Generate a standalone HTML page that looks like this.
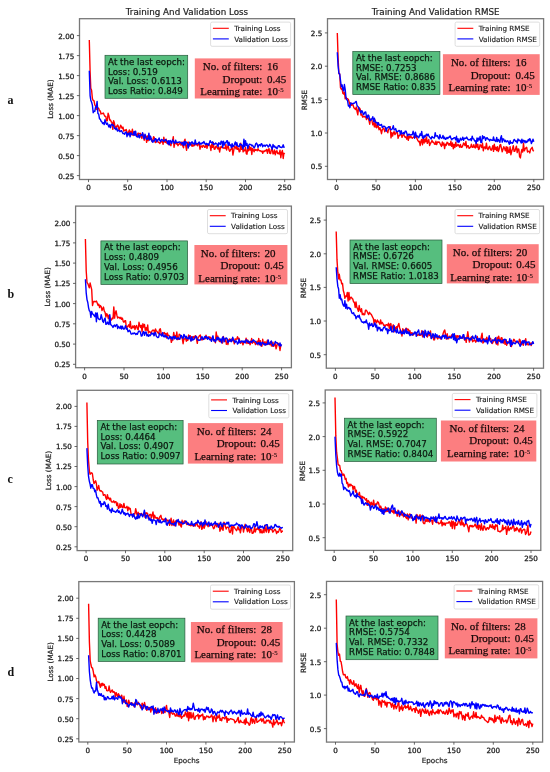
<!DOCTYPE html>
<html><head><meta charset="utf-8"><title>Training and Validation Loss / RMSE</title>
<style>html,body{margin:0;padding:0;background:#fff;}body{width:550px;height:772px;overflow:hidden;}svg{display:block;}</style>
</head><body>
<svg width="550" height="772" viewBox="0 0 550 772"><defs><clipPath id="c0"><rect x="79.5" y="18.7" width="215" height="160.8"/></clipPath><clipPath id="c1"><rect x="327.5" y="18.7" width="216.1" height="160.8"/></clipPath><clipPath id="c2"><rect x="75.6" y="206.1" width="215.8" height="161.6"/></clipPath><clipPath id="c3"><rect x="326.3" y="206.1" width="217.2" height="162.1"/></clipPath><clipPath id="c4"><rect x="77.1" y="390.3" width="215.6" height="160.3"/></clipPath><clipPath id="c5"><rect x="325.2" y="390" width="215.6" height="160.4"/></clipPath><clipPath id="c6"><rect x="78.8" y="581.6" width="215.6" height="160.4"/></clipPath><clipPath id="c7"><rect x="326.5" y="581.4" width="216.1" height="160.7"/></clipPath></defs><g><rect width="550" height="772" fill="#fff"/><g clip-path="url(#c0)"><polyline points="89.3,40.0 90.1,71.6 90.8,88.4 91.6,90.2 92.4,98.6 93.2,100.6 94.0,100.6 94.8,104.9 95.6,106.0 96.3,109.5 97.1,108.1 97.9,107.8 98.7,108.6 99.5,110.7 100.3,110.9 101.0,114.0 101.8,113.5 102.6,113.5 103.4,113.1 104.2,115.0 105.0,116.4 105.8,116.5 106.5,120.7 107.3,120.7 108.1,113.2 108.9,115.6 109.7,120.0 110.5,120.0 111.3,121.9 112.0,122.5 112.8,129.4 113.6,120.8 114.4,123.0 115.2,128.9 116.0,126.4 116.7,126.9 117.5,124.9 118.3,126.2 119.1,130.3 119.9,127.7 120.7,125.2 121.5,126.9 122.2,128.6 123.0,127.1 123.8,131.2 124.6,130.1 125.4,130.3 126.2,129.4 127.0,132.2 127.7,133.1 128.5,132.2 129.3,130.0 130.1,133.7 130.9,131.3 131.7,134.7 132.4,129.1 133.2,135.5 134.0,133.7 134.8,131.4 135.6,133.8 136.4,134.9 137.2,135.7 137.9,133.2 138.7,133.3 139.5,133.9 140.3,133.3 141.1,137.0 141.9,138.4 142.6,133.4 143.4,135.3 144.2,140.2 145.0,135.1 145.8,136.2 146.6,142.3 147.4,135.9 148.1,140.7 148.9,138.1 149.7,135.9 150.5,139.1 151.3,138.6 152.1,141.5 152.9,140.4 153.6,136.6 154.4,137.8 155.2,142.5 156.0,142.3 156.8,139.6 157.6,141.2 158.3,142.3 159.1,142.5 159.9,143.5 160.7,142.2 161.5,141.6 162.3,141.3 163.1,144.3 163.8,137.1 164.6,141.9 165.4,142.4 166.2,139.3 167.0,143.3 167.8,141.2 168.6,144.6 169.3,142.6 170.1,144.4 170.9,145.7 171.7,141.7 172.5,141.3 173.3,136.7 174.0,147.3 174.8,143.3 175.6,142.1 176.4,144.0 177.2,143.4 178.0,145.7 178.8,144.0 179.5,144.1 180.3,142.5 181.1,145.2 181.9,142.0 182.7,145.8 183.5,147.8 184.3,141.2 185.0,139.2 185.8,146.0 186.6,150.3 187.4,142.6 188.2,142.1 189.0,146.3 189.7,143.2 190.5,144.0 191.3,144.4 192.1,146.4 192.9,144.4 193.7,146.0 194.5,145.1 195.2,143.7 196.0,144.9 196.8,143.6 197.6,145.8 198.4,143.4 199.2,143.5 200.0,149.2 200.7,145.9 201.5,146.0 202.3,147.3 203.1,145.3 203.9,145.8 204.7,147.3 205.4,147.0 206.2,143.9 207.0,148.4 207.8,145.3 208.6,144.4 209.4,144.8 210.2,145.9 210.9,150.5 211.7,144.4 212.5,147.4 213.3,142.4 214.1,149.0 214.9,149.2 215.7,146.8 216.4,146.0 217.2,147.9 218.0,149.0 218.8,146.8 219.6,152.0 220.4,148.1 221.1,146.4 221.9,147.5 222.7,147.7 223.5,148.2 224.3,147.9 225.1,148.5 225.9,144.5 226.6,150.0 227.4,147.0 228.2,145.7 229.0,149.8 229.8,151.3 230.6,149.6 231.4,148.9 232.1,146.6 232.9,155.0 233.7,150.7 234.5,146.3 235.3,147.1 236.1,149.1 236.8,145.6 237.6,149.4 238.4,148.1 239.2,151.8 240.0,151.3 240.8,143.3 241.6,149.4 242.3,145.8 243.1,151.9 243.9,149.9 244.7,150.8 245.5,147.3 246.3,153.7 247.0,154.2 247.8,147.6 248.6,150.8 249.4,146.4 250.2,150.1 251.0,147.5 251.8,154.5 252.5,148.4 253.3,149.9 254.1,151.8 254.9,149.3 255.7,150.3 256.5,149.7 257.3,150.8 258.0,148.6 258.8,150.3 259.6,150.9 260.4,150.7 261.2,151.6 262.0,151.0 262.7,153.4 263.5,151.1 264.3,151.6 265.1,150.5 265.9,150.9 266.7,149.4 267.5,153.4 268.2,149.8 269.0,148.6 269.8,153.3 270.6,153.5 271.4,149.4 272.2,148.3 273.0,153.8 273.7,153.5 274.5,149.9 275.3,154.8 276.1,151.6 276.9,150.8 277.7,153.6 278.4,153.0 279.2,154.0 280.0,150.1 280.8,157.7 281.6,152.4 282.4,150.5 283.2,158.5 283.9,153.2 284.7,154.1" fill="none" stroke="#ff0000" stroke-width="1.4" stroke-linejoin="round"/><polyline points="89.3,70.8 90.1,95.6 90.8,100.3 91.6,102.3 92.4,105.1 93.2,112.7 94.0,111.3 94.8,111.3 95.6,106.9 96.3,107.3 97.1,101.4 97.9,113.5 98.7,114.1 99.5,118.8 100.3,119.2 101.0,121.1 101.8,121.7 102.6,123.5 103.4,122.8 104.2,124.6 105.0,119.7 105.8,122.5 106.5,124.3 107.3,123.1 108.1,125.0 108.9,127.0 109.7,124.8 110.5,127.7 111.3,124.6 112.0,124.2 112.8,125.5 113.6,125.3 114.4,128.4 115.2,128.3 116.0,129.7 116.7,127.9 117.5,131.1 118.3,130.1 119.1,130.5 119.9,131.7 120.7,130.9 121.5,130.6 122.2,132.0 123.0,133.6 123.8,133.5 124.6,134.2 125.4,132.1 126.2,132.0 127.0,136.7 127.7,133.4 128.5,134.8 129.3,132.8 130.1,136.8 130.9,132.6 131.7,134.2 132.4,134.4 133.2,134.8 134.0,131.5 134.8,135.4 135.6,131.1 136.4,136.3 137.2,136.8 137.9,137.1 138.7,134.3 139.5,137.9 140.3,135.2 141.1,134.8 141.9,135.4 142.6,132.7 143.4,137.5 144.2,138.8 145.0,134.2 145.8,136.9 146.6,139.4 147.4,138.4 148.1,139.1 148.9,133.1 149.7,140.1 150.5,136.2 151.3,139.2 152.1,141.2 152.9,142.2 153.6,140.1 154.4,140.9 155.2,138.6 156.0,139.0 156.8,141.7 157.6,140.0 158.3,139.9 159.1,138.0 159.9,140.6 160.7,141.6 161.5,139.4 162.3,140.0 163.1,140.2 163.8,141.3 164.6,140.7 165.4,139.5 166.2,140.4 167.0,141.1 167.8,143.9 168.6,140.8 169.3,144.8 170.1,140.5 170.9,141.6 171.7,143.6 172.5,139.9 173.3,141.1 174.0,142.4 174.8,143.4 175.6,140.1 176.4,142.4 177.2,142.6 178.0,142.2 178.8,142.2 179.5,141.9 180.3,142.3 181.1,142.9 181.9,144.0 182.7,142.5 183.5,145.3 184.3,141.5 185.0,145.0 185.8,141.6 186.6,142.7 187.4,143.5 188.2,148.1 189.0,144.4 189.7,142.3 190.5,145.1 191.3,142.7 192.1,141.7 192.9,143.7 193.7,143.2 194.5,144.6 195.2,139.9 196.0,143.7 196.8,144.1 197.6,143.5 198.4,143.0 199.2,142.0 200.0,144.5 200.7,143.3 201.5,143.9 202.3,142.6 203.1,143.1 203.9,141.5 204.7,143.3 205.4,144.4 206.2,143.3 207.0,144.5 207.8,143.7 208.6,145.4 209.4,142.9 210.2,140.6 210.9,142.3 211.7,143.0 212.5,141.8 213.3,144.4 214.1,143.9 214.9,144.2 215.7,143.0 216.4,143.9 217.2,144.0 218.0,146.5 218.8,142.6 219.6,143.8 220.4,144.4 221.1,141.1 221.9,141.4 222.7,147.4 223.5,141.2 224.3,145.0 225.1,142.8 225.9,142.9 226.6,141.0 227.4,140.8 228.2,145.5 229.0,142.1 229.8,145.3 230.6,144.9 231.4,147.7 232.1,143.7 232.9,146.6 233.7,146.0 234.5,144.2 235.3,142.0 236.1,145.4 236.8,142.6 237.6,146.1 238.4,146.3 239.2,146.7 240.0,143.6 240.8,144.9 241.6,144.6 242.3,146.9 243.1,149.1 243.9,139.2 244.7,146.6 245.5,140.6 246.3,145.3 247.0,143.5 247.8,148.5 248.6,145.6 249.4,144.2 250.2,144.6 251.0,144.5 251.8,145.8 252.5,145.2 253.3,146.6 254.1,148.0 254.9,146.7 255.7,143.7 256.5,143.1 257.3,144.5 258.0,147.4 258.8,145.2 259.6,144.7 260.4,146.0 261.2,143.6 262.0,144.1 262.7,146.7 263.5,145.5 264.3,145.2 265.1,146.5 265.9,145.1 266.7,145.0 267.5,145.4 268.2,147.1 269.0,146.2 269.8,144.3 270.6,145.7 271.4,147.3 272.2,149.3 273.0,144.5 273.7,146.9 274.5,145.9 275.3,147.7 276.1,147.1 276.9,148.8 277.7,147.3 278.4,145.6 279.2,145.7 280.0,147.2 280.8,147.2 281.6,147.6 282.4,146.9 283.2,144.8 283.9,147.3 284.7,146.7" fill="none" stroke="#0000ff" stroke-width="1.4" stroke-linejoin="round"/></g>
<rect x="79.5" y="18.7" width="215" height="160.8" fill="none" stroke="#787878" stroke-width="1.3"/>
<g font-family="DejaVu Sans, Liberation Sans, sans-serif" font-size="7.2" fill="#222" stroke="#222" stroke-width="0.28"><line x1="76.9" y1="175.6" x2="79.5" y2="175.6" stroke="#444" stroke-width="0.8"/><text x="74.3" y="178.5" text-anchor="end">0.25</text><line x1="76.9" y1="155.6" x2="79.5" y2="155.6" stroke="#444" stroke-width="0.8"/><text x="74.3" y="158.5" text-anchor="end">0.50</text><line x1="76.9" y1="135.6" x2="79.5" y2="135.6" stroke="#444" stroke-width="0.8"/><text x="74.3" y="138.5" text-anchor="end">0.75</text><line x1="76.9" y1="115.6" x2="79.5" y2="115.6" stroke="#444" stroke-width="0.8"/><text x="74.3" y="118.5" text-anchor="end">1.00</text><line x1="76.9" y1="95.6" x2="79.5" y2="95.6" stroke="#444" stroke-width="0.8"/><text x="74.3" y="98.5" text-anchor="end">1.25</text><line x1="76.9" y1="75.6" x2="79.5" y2="75.6" stroke="#444" stroke-width="0.8"/><text x="74.3" y="78.5" text-anchor="end">1.50</text><line x1="76.9" y1="55.6" x2="79.5" y2="55.6" stroke="#444" stroke-width="0.8"/><text x="74.3" y="58.5" text-anchor="end">1.75</text><line x1="76.9" y1="35.6" x2="79.5" y2="35.6" stroke="#444" stroke-width="0.8"/><text x="74.3" y="38.5" text-anchor="end">2.00</text><line x1="88.5" y1="179.5" x2="88.5" y2="182.1" stroke="#444" stroke-width="0.8"/><text x="88.5" y="190.3" text-anchor="middle">0</text><line x1="127.7" y1="179.5" x2="127.7" y2="182.1" stroke="#444" stroke-width="0.8"/><text x="127.7" y="190.3" text-anchor="middle">50</text><line x1="167.0" y1="179.5" x2="167.0" y2="182.1" stroke="#444" stroke-width="0.8"/><text x="167.0" y="190.3" text-anchor="middle">100</text><line x1="206.2" y1="179.5" x2="206.2" y2="182.1" stroke="#444" stroke-width="0.8"/><text x="206.2" y="190.3" text-anchor="middle">150</text><line x1="245.5" y1="179.5" x2="245.5" y2="182.1" stroke="#444" stroke-width="0.8"/><text x="245.5" y="190.3" text-anchor="middle">200</text><line x1="284.7" y1="179.5" x2="284.7" y2="182.1" stroke="#444" stroke-width="0.8"/><text x="284.7" y="190.3" text-anchor="middle">250</text></g>
<text x="53.5" y="99.1" transform="rotate(-90 53.5 99.1)" text-anchor="middle" font-family="DejaVu Sans, Liberation Sans, sans-serif" font-size="7.2" fill="#222" stroke="#222" stroke-width="0.2">Loss (MAE)</text>
<rect x="210.6" y="22.1" width="80.0" height="24.2" rx="1.5" fill="#fff" fill-opacity="0.8" stroke="#d6d6d6" stroke-width="0.8"/>
<line x1="212.9" y1="28.3" x2="228.8" y2="28.3" stroke="#ff0000" stroke-width="1.1"/>
<text x="234.2" y="30.9" font-family="DejaVu Sans, Liberation Sans, sans-serif" font-size="7.2" fill="#222" stroke="#222" stroke-width="0.15">Training Loss</text>
<line x1="212.9" y1="38.9" x2="228.8" y2="38.9" stroke="#0000ff" stroke-width="1.1"/>
<text x="234.2" y="41.5" font-family="DejaVu Sans, Liberation Sans, sans-serif" font-size="7.2" fill="#222" stroke="#222" stroke-width="0.15">Validation Loss</text>
<rect x="105.0" y="55.3" width="82.7" height="43.0" fill="rgb(86,190,126)" stroke="rgb(40,90,60)" stroke-width="0.7"/>
<g font-family="DejaVu Sans, Liberation Sans, sans-serif" font-size="8.7" fill="#0c1a10" stroke="#0c1a10" stroke-width="0.25"><text x="108.1" y="64.8">At the last eopch:</text><text x="108.1" y="74.5">Loss: 0.519</text><text x="108.1" y="84.2">Val. Loss: 0.6113</text><text x="108.1" y="93.9">Loss Ratio: 0.849</text></g>
<rect x="194.8" y="58.4" width="96.0" height="40.1" fill="rgb(252,126,128)"/>
<g font-family="Liberation Serif, serif" font-size="11" fill="#1a0a0a" stroke="#1a0a0a" stroke-width="0.25"><text x="262.3" y="70.3" text-anchor="end">No. of filters:</text><text x="267.0" y="70.3">16</text><text x="262.3" y="82.5" text-anchor="end">Dropout:</text><text x="267.0" y="82.5">0.45</text><text x="262.3" y="94.6" text-anchor="end">Learning rate:</text><text x="267.0" y="94.6">10<tspan font-size="6.8" dy="-3.0" stroke-width="0.1">-5</tspan></text></g>
<g clip-path="url(#c1)"><polyline points="337.3,32.9 338.1,58.0 338.9,73.8 339.7,74.0 340.5,87.6 341.3,89.2 342.1,88.6 342.8,93.2 343.6,94.1 344.4,92.1 345.2,98.9 346.0,97.4 346.8,98.6 347.6,98.8 348.4,99.5 349.2,102.3 349.9,104.6 350.7,103.0 351.5,105.4 352.3,103.9 353.1,105.2 353.9,107.7 354.7,108.6 355.5,109.4 356.3,106.9 357.0,111.4 357.8,114.8 358.6,107.4 359.4,108.0 360.2,109.2 361.0,115.1 361.8,114.2 362.6,117.0 363.4,116.8 364.1,116.3 364.9,117.1 365.7,116.7 366.5,119.5 367.3,115.8 368.1,118.1 368.9,120.2 369.7,124.2 370.5,119.2 371.2,119.2 372.0,120.9 372.8,124.8 373.6,122.8 374.4,126.8 375.2,120.3 376.0,127.4 376.8,127.8 377.6,122.9 378.3,126.8 379.1,129.7 379.9,127.7 380.7,130.2 381.5,133.7 382.3,129.5 383.1,128.8 383.9,128.1 384.7,131.7 385.5,130.1 386.2,130.4 387.0,130.9 387.8,132.8 388.6,129.2 389.4,128.5 390.2,126.7 391.0,137.9 391.8,132.7 392.6,136.1 393.3,133.0 394.1,131.6 394.9,134.6 395.7,133.6 396.5,131.2 397.3,132.2 398.1,138.3 398.9,135.4 399.7,135.7 400.4,134.4 401.2,133.7 402.0,137.4 402.8,135.4 403.6,134.2 404.4,135.8 405.2,137.3 406.0,136.9 406.8,139.2 407.5,135.1 408.3,140.3 409.1,135.9 409.9,137.9 410.7,135.9 411.5,137.5 412.3,138.3 413.1,137.4 413.9,137.0 414.6,137.3 415.4,137.2 416.2,135.7 417.0,138.8 417.8,140.4 418.6,141.7 419.4,141.3 420.2,145.5 421.0,141.0 421.7,139.4 422.5,144.7 423.3,138.4 424.1,143.0 424.9,138.9 425.7,141.9 426.5,136.9 427.3,143.4 428.1,141.2 428.8,139.5 429.6,145.5 430.4,143.6 431.2,142.1 432.0,140.5 432.8,142.2 433.6,142.1 434.4,144.1 435.2,144.4 435.9,141.3 436.7,144.5 437.5,141.9 438.3,142.4 439.1,142.0 439.9,143.2 440.7,145.0 441.5,146.5 442.3,142.0 443.0,145.1 443.8,143.0 444.6,148.6 445.4,144.1 446.2,145.4 447.0,142.3 447.8,142.7 448.6,145.0 449.4,143.7 450.1,145.4 450.9,141.3 451.7,146.3 452.5,142.9 453.3,148.7 454.1,144.4 454.9,147.5 455.7,142.1 456.5,146.2 457.2,145.6 458.0,144.3 458.8,145.5 459.6,147.2 460.4,144.5 461.2,147.3 462.0,147.2 462.8,145.6 463.6,142.9 464.3,144.2 465.1,145.6 465.9,141.4 466.7,147.8 467.5,145.7 468.3,145.7 469.1,148.4 469.9,147.8 470.7,146.9 471.4,144.3 472.2,147.2 473.0,147.4 473.8,144.7 474.6,147.4 475.4,147.9 476.2,142.5 477.0,147.2 477.8,144.2 478.5,149.5 479.3,148.9 480.1,144.7 480.9,145.3 481.7,147.5 482.5,143.3 483.3,150.8 484.1,147.1 484.9,146.9 485.6,148.8 486.4,143.2 487.2,148.4 488.0,149.7 488.8,147.4 489.6,146.3 490.4,149.2 491.2,150.3 492.0,148.6 492.8,145.7 493.5,151.4 494.3,144.2 495.1,149.5 495.9,147.2 496.7,150.6 497.5,146.7 498.3,151.6 499.1,149.4 499.9,145.0 500.6,144.5 501.4,148.2 502.2,151.8 503.0,149.3 503.8,146.7 504.6,148.6 505.4,150.8 506.2,146.7 507.0,153.3 507.7,147.2 508.5,152.1 509.3,152.5 510.1,146.7 510.9,154.7 511.7,151.3 512.5,148.7 513.3,145.6 514.1,151.3 514.8,151.2 515.6,148.7 516.4,146.1 517.2,152.6 518.0,148.9 518.8,149.2 519.6,156.6 520.4,157.9 521.2,152.5 521.9,149.5 522.7,152.0 523.5,143.3 524.3,150.9 525.1,149.0 525.9,147.9 526.7,147.3 527.5,152.0 528.3,151.1 529.0,151.3 529.8,152.9 530.6,149.2 531.4,148.4 532.2,147.3 533.0,150.5 533.8,151.3" fill="none" stroke="#ff0000" stroke-width="1.4" stroke-linejoin="round"/><polyline points="337.3,52.2 338.1,65.9 338.9,73.3 339.7,74.1 340.5,80.4 341.3,86.8 342.1,84.8 342.8,88.9 343.6,91.0 344.4,84.5 345.2,89.4 346.0,97.9 346.8,99.7 347.6,100.8 348.4,106.0 349.2,105.5 349.9,107.7 350.7,103.0 351.5,103.3 352.3,103.8 353.1,103.3 353.9,103.5 354.7,103.0 355.5,101.9 356.3,101.5 357.0,105.5 357.8,106.4 358.6,107.7 359.4,109.3 360.2,111.7 361.0,112.9 361.8,110.6 362.6,111.9 363.4,114.8 364.1,114.1 364.9,112.1 365.7,111.9 366.5,117.2 367.3,117.9 368.1,114.9 368.9,115.8 369.7,120.3 370.5,120.4 371.2,118.9 372.0,119.0 372.8,116.7 373.6,121.5 374.4,118.1 375.2,122.2 376.0,122.7 376.8,122.3 377.6,125.1 378.3,122.6 379.1,124.6 379.9,125.4 380.7,125.0 381.5,124.4 382.3,127.5 383.1,126.7 383.9,126.2 384.7,126.6 385.5,127.4 386.2,131.2 387.0,128.0 387.8,127.7 388.6,126.7 389.4,126.7 390.2,129.0 391.0,129.6 391.8,129.5 392.6,128.1 393.3,125.7 394.1,129.8 394.9,129.7 395.7,128.6 396.5,131.5 397.3,131.5 398.1,131.4 398.9,130.5 399.7,130.9 400.4,134.4 401.2,130.8 402.0,133.5 402.8,133.9 403.6,132.6 404.4,133.8 405.2,131.3 406.0,131.1 406.8,133.3 407.5,135.7 408.3,134.8 409.1,134.1 409.9,135.1 410.7,134.8 411.5,134.8 412.3,134.7 413.1,131.3 413.9,134.1 414.6,138.2 415.4,132.2 416.2,134.9 417.0,136.9 417.8,136.1 418.6,137.8 419.4,136.5 420.2,133.8 421.0,135.4 421.7,131.4 422.5,137.6 423.3,138.5 424.1,135.5 424.9,137.2 425.7,135.7 426.5,134.2 427.3,135.8 428.1,134.1 428.8,135.8 429.6,137.1 430.4,138.0 431.2,139.0 432.0,136.4 432.8,137.4 433.6,137.8 434.4,138.1 435.2,132.7 435.9,136.1 436.7,136.0 437.5,135.7 438.3,137.9 439.1,138.9 439.9,134.6 440.7,137.4 441.5,138.2 442.3,137.9 443.0,135.5 443.8,138.6 444.6,137.2 445.4,139.4 446.2,138.9 447.0,137.4 447.8,138.6 448.6,137.2 449.4,137.2 450.1,135.9 450.9,138.1 451.7,139.8 452.5,138.7 453.3,138.5 454.1,137.6 454.9,137.8 455.7,139.9 456.5,136.3 457.2,142.1 458.0,138.7 458.8,142.3 459.6,140.8 460.4,138.2 461.2,140.1 462.0,139.4 462.8,137.1 463.6,140.3 464.3,138.2 465.1,138.2 465.9,138.5 466.7,137.0 467.5,138.8 468.3,139.7 469.1,139.7 469.9,139.7 470.7,138.8 471.4,140.7 472.2,136.2 473.0,138.9 473.8,139.0 474.6,141.0 475.4,140.7 476.2,143.5 477.0,138.0 477.8,141.2 478.5,138.1 479.3,139.9 480.1,136.4 480.9,142.6 481.7,142.4 482.5,135.8 483.3,138.6 484.1,136.6 484.9,137.5 485.6,140.2 486.4,138.2 487.2,137.7 488.0,139.3 488.8,139.1 489.6,140.9 490.4,139.5 491.2,139.9 492.0,140.4 492.8,140.3 493.5,136.9 494.3,140.6 495.1,140.2 495.9,141.6 496.7,137.5 497.5,141.6 498.3,139.4 499.1,140.9 499.9,142.4 500.6,138.2 501.4,135.6 502.2,142.2 503.0,138.8 503.8,139.1 504.6,141.6 505.4,140.3 506.2,141.9 507.0,141.2 507.7,140.7 508.5,142.3 509.3,144.3 510.1,140.7 510.9,143.2 511.7,142.7 512.5,143.3 513.3,141.6 514.1,139.4 514.8,140.0 515.6,141.4 516.4,140.9 517.2,143.1 518.0,139.0 518.8,140.6 519.6,140.1 520.4,140.9 521.2,143.0 521.9,139.2 522.7,142.5 523.5,140.3 524.3,140.7 525.1,142.8 525.9,140.8 526.7,142.4 527.5,141.5 528.3,139.5 529.0,140.8 529.8,138.6 530.6,140.2 531.4,143.5 532.2,141.8 533.0,139.1 533.8,141.7" fill="none" stroke="#0000ff" stroke-width="1.4" stroke-linejoin="round"/></g>
<rect x="327.5" y="18.7" width="216.1" height="160.8" fill="none" stroke="#787878" stroke-width="1.3"/>
<g font-family="DejaVu Sans, Liberation Sans, sans-serif" font-size="7.2" fill="#222" stroke="#222" stroke-width="0.28"><line x1="324.9" y1="166.3" x2="327.5" y2="166.3" stroke="#444" stroke-width="0.8"/><text x="322.3" y="169.2" text-anchor="end">0.5</text><line x1="324.9" y1="133.0" x2="327.5" y2="133.0" stroke="#444" stroke-width="0.8"/><text x="322.3" y="135.9" text-anchor="end">1.0</text><line x1="324.9" y1="99.6" x2="327.5" y2="99.6" stroke="#444" stroke-width="0.8"/><text x="322.3" y="102.5" text-anchor="end">1.5</text><line x1="324.9" y1="66.2" x2="327.5" y2="66.2" stroke="#444" stroke-width="0.8"/><text x="322.3" y="69.2" text-anchor="end">2.0</text><line x1="324.9" y1="32.9" x2="327.5" y2="32.9" stroke="#444" stroke-width="0.8"/><text x="322.3" y="35.8" text-anchor="end">2.5</text><line x1="336.5" y1="179.5" x2="336.5" y2="182.1" stroke="#444" stroke-width="0.8"/><text x="336.5" y="190.3" text-anchor="middle">0</text><line x1="376.0" y1="179.5" x2="376.0" y2="182.1" stroke="#444" stroke-width="0.8"/><text x="376.0" y="190.3" text-anchor="middle">50</text><line x1="415.4" y1="179.5" x2="415.4" y2="182.1" stroke="#444" stroke-width="0.8"/><text x="415.4" y="190.3" text-anchor="middle">100</text><line x1="454.9" y1="179.5" x2="454.9" y2="182.1" stroke="#444" stroke-width="0.8"/><text x="454.9" y="190.3" text-anchor="middle">150</text><line x1="494.3" y1="179.5" x2="494.3" y2="182.1" stroke="#444" stroke-width="0.8"/><text x="494.3" y="190.3" text-anchor="middle">200</text><line x1="533.8" y1="179.5" x2="533.8" y2="182.1" stroke="#444" stroke-width="0.8"/><text x="533.8" y="190.3" text-anchor="middle">250</text></g>
<text x="307.3" y="100.1" transform="rotate(-90 307.3 100.1)" text-anchor="middle" font-family="DejaVu Sans, Liberation Sans, sans-serif" font-size="7.2" fill="#222" stroke="#222" stroke-width="0.2">RMSE</text>
<rect x="455.1" y="22.1" width="84.6" height="24.2" rx="1.5" fill="#fff" fill-opacity="0.8" stroke="#d6d6d6" stroke-width="0.8"/>
<line x1="457.4" y1="28.3" x2="473.3" y2="28.3" stroke="#ff0000" stroke-width="1.1"/>
<text x="478.7" y="30.9" font-family="DejaVu Sans, Liberation Sans, sans-serif" font-size="7.2" fill="#222" stroke="#222" stroke-width="0.15">Training RMSE</text>
<line x1="457.4" y1="38.9" x2="473.3" y2="38.9" stroke="#0000ff" stroke-width="1.1"/>
<text x="478.7" y="41.5" font-family="DejaVu Sans, Liberation Sans, sans-serif" font-size="7.2" fill="#222" stroke="#222" stroke-width="0.15">Validation RMSE</text>
<rect x="352.8" y="51.4" width="87.1" height="43.2" fill="rgb(86,190,126)" stroke="rgb(40,90,60)" stroke-width="0.7"/>
<g font-family="DejaVu Sans, Liberation Sans, sans-serif" font-size="8.7" fill="#0c1a10" stroke="#0c1a10" stroke-width="0.25"><text x="355.9" y="60.9">At the last eopch:</text><text x="355.9" y="70.6">RMSE: 0.7253</text><text x="355.9" y="80.3">Val. RMSE: 0.8686</text><text x="355.9" y="90.0">RMSE Ratio: 0.835</text></g>
<rect x="442.9" y="54.2" width="96.8" height="40.7" fill="rgb(252,126,128)"/>
<g font-family="Liberation Serif, serif" font-size="11" fill="#1a0a0a" stroke="#1a0a0a" stroke-width="0.25"><text x="510.5" y="66.3" text-anchor="end">No. of filters:</text><text x="515.6" y="66.3">16</text><text x="510.5" y="78.8" text-anchor="end">Dropout:</text><text x="515.6" y="78.8">0.45</text><text x="510.5" y="91.3" text-anchor="end">Learning rate:</text><text x="515.6" y="91.3">10<tspan font-size="6.8" dy="-3.0" stroke-width="0.1">-5</tspan></text></g>
<g clip-path="url(#c2)"><polyline points="85.4,238.9 86.2,270.7 87.0,282.5 87.8,283.6 88.6,285.7 89.3,287.8 90.1,283.0 90.9,286.3 91.7,289.7 92.5,305.5 93.3,302.0 94.1,301.2 94.9,301.9 95.7,301.5 96.4,301.1 97.2,303.0 98.0,305.3 98.8,304.2 99.6,307.5 100.4,305.6 101.2,306.7 102.0,310.6 102.7,308.9 103.5,307.1 104.3,311.1 105.1,312.3 105.9,317.0 106.7,313.7 107.5,315.2 108.3,318.7 109.0,315.3 109.8,317.3 110.6,320.5 111.4,319.9 112.2,318.1 113.0,318.7 113.8,306.9 114.6,318.1 115.3,313.0 116.1,310.8 116.9,315.4 117.7,318.0 118.5,317.2 119.3,317.4 120.1,318.6 120.9,317.3 121.7,319.4 122.4,318.2 123.2,321.4 124.0,322.2 124.8,320.8 125.6,320.7 126.4,328.7 127.2,327.0 128.0,325.9 128.7,324.8 129.5,327.2 130.3,321.4 131.1,328.6 131.9,328.3 132.7,325.9 133.5,327.7 134.3,325.7 135.0,329.5 135.8,326.4 136.6,325.5 137.4,328.9 138.2,329.8 139.0,322.3 139.8,325.8 140.6,327.5 141.3,325.3 142.1,331.8 142.9,323.8 143.7,327.0 144.5,324.5 145.3,330.4 146.1,327.7 146.9,330.3 147.7,325.0 148.4,333.0 149.2,331.4 150.0,331.9 150.8,333.2 151.6,331.9 152.4,330.2 153.2,330.2 154.0,330.2 154.7,335.1 155.5,328.9 156.3,330.9 157.1,331.5 157.9,332.8 158.7,333.6 159.5,329.7 160.3,328.7 161.0,332.5 161.8,335.3 162.6,334.3 163.4,333.2 164.2,332.4 165.0,334.2 165.8,333.4 166.6,338.0 167.3,333.0 168.1,335.5 168.9,335.4 169.7,337.2 170.5,336.9 171.3,342.4 172.1,340.1 172.9,340.1 173.7,332.4 174.4,336.1 175.2,335.6 176.0,338.1 176.8,332.0 177.6,339.6 178.4,339.4 179.2,334.2 180.0,335.0 180.7,335.4 181.5,337.3 182.3,338.6 183.1,343.7 183.9,338.9 184.7,339.0 185.5,337.7 186.3,341.2 187.0,339.0 187.8,340.4 188.6,335.0 189.4,337.0 190.2,335.7 191.0,340.8 191.8,339.0 192.6,336.9 193.3,336.6 194.1,338.7 194.9,336.1 195.7,335.7 196.5,338.9 197.3,343.3 198.1,337.4 198.9,336.7 199.7,335.4 200.4,335.1 201.2,339.3 202.0,340.1 202.8,338.3 203.6,339.0 204.4,338.6 205.2,338.7 206.0,335.1 206.7,337.5 207.5,338.8 208.3,336.9 209.1,337.6 209.9,336.9 210.7,338.0 211.5,340.7 212.3,337.9 213.0,338.5 213.8,340.7 214.6,340.4 215.4,342.8 216.2,332.0 217.0,337.6 217.8,336.2 218.6,339.5 219.3,341.1 220.1,341.7 220.9,341.6 221.7,339.7 222.5,343.0 223.3,336.4 224.1,339.2 224.9,341.3 225.7,338.4 226.4,344.4 227.2,341.9 228.0,344.5 228.8,339.7 229.6,339.0 230.4,340.2 231.2,341.5 232.0,338.7 232.7,340.8 233.5,340.1 234.3,343.8 235.1,338.9 235.9,339.4 236.7,339.1 237.5,336.7 238.3,339.2 239.0,338.2 239.8,341.2 240.6,343.3 241.4,341.5 242.2,342.6 243.0,344.9 243.8,342.0 244.6,341.9 245.3,342.6 246.1,338.2 246.9,343.5 247.7,340.0 248.5,343.4 249.3,342.0 250.1,344.7 250.9,342.1 251.7,338.5 252.4,343.2 253.2,341.3 254.0,342.2 254.8,342.8 255.6,344.6 256.4,342.5 257.2,341.2 258.0,344.8 258.7,338.5 259.5,342.9 260.3,340.7 261.1,345.9 261.9,346.3 262.7,339.3 263.5,344.0 264.3,343.5 265.0,341.6 265.8,345.1 266.6,343.0 267.4,340.2 268.2,343.6 269.0,344.0 269.8,344.6 270.6,341.7 271.3,345.9 272.1,346.2 272.9,342.2 273.7,346.4 274.5,344.7 275.3,343.7 276.1,348.9 276.9,345.6 277.7,343.0 278.4,343.5 279.2,345.2 280.0,350.5 280.8,345.1 281.6,345.6" fill="none" stroke="#ff0000" stroke-width="1.4" stroke-linejoin="round"/><polyline points="85.4,279.3 86.2,292.8 87.0,299.6 87.8,302.5 88.6,307.8 89.3,310.7 90.1,311.5 90.9,317.4 91.7,311.5 92.5,313.9 93.3,314.3 94.1,315.5 94.9,316.7 95.7,313.0 96.4,321.7 97.2,312.9 98.0,317.9 98.8,319.1 99.6,319.6 100.4,319.1 101.2,314.6 102.0,317.9 102.7,321.3 103.5,322.4 104.3,319.4 105.1,318.0 105.9,324.3 106.7,323.8 107.5,322.1 108.3,323.9 109.0,324.5 109.8,314.8 110.6,324.3 111.4,325.3 112.2,326.0 113.0,327.4 113.8,325.6 114.6,325.0 115.3,326.6 116.1,325.2 116.9,324.4 117.7,328.5 118.5,326.3 119.3,327.4 120.1,328.5 120.9,325.9 121.7,329.0 122.4,326.3 123.2,328.3 124.0,329.3 124.8,327.7 125.6,325.6 126.4,329.1 127.2,328.5 128.0,331.7 128.7,331.2 129.5,330.3 130.3,331.6 131.1,334.1 131.9,334.1 132.7,333.2 133.5,333.7 134.3,332.9 135.0,333.4 135.8,334.6 136.6,333.5 137.4,334.2 138.2,331.9 139.0,331.1 139.8,331.1 140.6,333.1 141.3,336.0 142.1,335.8 142.9,332.4 143.7,331.5 144.5,335.3 145.3,332.3 146.1,331.9 146.9,335.8 147.7,334.4 148.4,336.3 149.2,334.8 150.0,335.7 150.8,334.8 151.6,332.8 152.4,334.0 153.2,333.3 154.0,335.9 154.7,333.1 155.5,332.4 156.3,336.1 157.1,337.0 157.9,337.6 158.7,337.2 159.5,333.2 160.3,334.6 161.0,335.0 161.8,336.0 162.6,332.7 163.4,336.3 164.2,336.9 165.0,335.0 165.8,336.9 166.6,336.2 167.3,337.0 168.1,338.8 168.9,338.8 169.7,336.2 170.5,338.1 171.3,337.0 172.1,339.6 172.9,336.9 173.7,336.5 174.4,338.8 175.2,336.5 176.0,338.4 176.8,339.4 177.6,337.9 178.4,337.9 179.2,339.2 180.0,339.0 180.7,335.3 181.5,335.7 182.3,337.6 183.1,338.5 183.9,334.5 184.7,335.7 185.5,337.9 186.3,336.3 187.0,338.7 187.8,338.0 188.6,338.7 189.4,336.1 190.2,339.0 191.0,341.1 191.8,336.7 192.6,340.1 193.3,339.6 194.1,339.1 194.9,338.0 195.7,336.3 196.5,336.8 197.3,339.5 198.1,339.9 198.9,340.4 199.7,340.0 200.4,340.0 201.2,337.9 202.0,336.7 202.8,339.0 203.6,339.5 204.4,337.0 205.2,336.4 206.0,338.0 206.7,336.6 207.5,339.2 208.3,337.4 209.1,338.8 209.9,339.7 210.7,339.4 211.5,341.4 212.3,337.5 213.0,335.8 213.8,340.9 214.6,339.7 215.4,341.8 216.2,340.0 217.0,337.2 217.8,339.8 218.6,337.6 219.3,338.8 220.1,340.6 220.9,338.9 221.7,342.9 222.5,337.4 223.3,336.9 224.1,341.8 224.9,339.1 225.7,338.3 226.4,337.9 227.2,339.0 228.0,342.6 228.8,340.9 229.6,341.1 230.4,339.5 231.2,341.7 232.0,340.6 232.7,337.3 233.5,339.8 234.3,340.9 235.1,342.6 235.9,340.7 236.7,341.6 237.5,344.1 238.3,343.1 239.0,339.1 239.8,342.7 240.6,341.9 241.4,341.1 242.2,341.7 243.0,340.9 243.8,342.3 244.6,341.0 245.3,342.9 246.1,339.8 246.9,340.4 247.7,342.0 248.5,341.1 249.3,343.1 250.1,341.9 250.9,341.2 251.7,342.5 252.4,341.4 253.2,339.8 254.0,340.5 254.8,341.1 255.6,341.7 256.4,342.7 257.2,344.1 258.0,343.5 258.7,342.5 259.5,344.8 260.3,342.5 261.1,345.6 261.9,342.9 262.7,342.3 263.5,343.6 264.3,344.9 265.0,343.6 265.8,344.9 266.6,344.0 267.4,344.5 268.2,339.9 269.0,344.1 269.8,343.0 270.6,343.0 271.3,341.0 272.1,344.3 272.9,345.8 273.7,344.8 274.5,343.9 275.3,341.4 276.1,342.7 276.9,342.8 277.7,343.6 278.4,344.0 279.2,345.8 280.0,342.9 280.8,346.0 281.6,344.4" fill="none" stroke="#0000ff" stroke-width="1.4" stroke-linejoin="round"/></g>
<rect x="75.6" y="206.1" width="215.8" height="161.6" fill="none" stroke="#787878" stroke-width="1.3"/>
<g font-family="DejaVu Sans, Liberation Sans, sans-serif" font-size="7.2" fill="#222" stroke="#222" stroke-width="0.28"><line x1="73" y1="364.3" x2="75.6" y2="364.3" stroke="#444" stroke-width="0.8"/><text x="70.4" y="367.2" text-anchor="end">0.25</text><line x1="73" y1="344.1" x2="75.6" y2="344.1" stroke="#444" stroke-width="0.8"/><text x="70.4" y="346.9" text-anchor="end">0.50</text><line x1="73" y1="323.8" x2="75.6" y2="323.8" stroke="#444" stroke-width="0.8"/><text x="70.4" y="326.7" text-anchor="end">0.75</text><line x1="73" y1="303.6" x2="75.6" y2="303.6" stroke="#444" stroke-width="0.8"/><text x="70.4" y="306.5" text-anchor="end">1.00</text><line x1="73" y1="283.4" x2="75.6" y2="283.4" stroke="#444" stroke-width="0.8"/><text x="70.4" y="286.3" text-anchor="end">1.25</text><line x1="73" y1="263.1" x2="75.6" y2="263.1" stroke="#444" stroke-width="0.8"/><text x="70.4" y="266.0" text-anchor="end">1.50</text><line x1="73" y1="242.9" x2="75.6" y2="242.9" stroke="#444" stroke-width="0.8"/><text x="70.4" y="245.8" text-anchor="end">1.75</text><line x1="73" y1="222.7" x2="75.6" y2="222.7" stroke="#444" stroke-width="0.8"/><text x="70.4" y="225.6" text-anchor="end">2.00</text><line x1="84.6" y1="367.7" x2="84.6" y2="370.3" stroke="#444" stroke-width="0.8"/><text x="84.6" y="378.5" text-anchor="middle">0</text><line x1="124.0" y1="367.7" x2="124.0" y2="370.3" stroke="#444" stroke-width="0.8"/><text x="124.0" y="378.5" text-anchor="middle">50</text><line x1="163.4" y1="367.7" x2="163.4" y2="370.3" stroke="#444" stroke-width="0.8"/><text x="163.4" y="378.5" text-anchor="middle">100</text><line x1="202.8" y1="367.7" x2="202.8" y2="370.3" stroke="#444" stroke-width="0.8"/><text x="202.8" y="378.5" text-anchor="middle">150</text><line x1="242.2" y1="367.7" x2="242.2" y2="370.3" stroke="#444" stroke-width="0.8"/><text x="242.2" y="378.5" text-anchor="middle">200</text><line x1="281.6" y1="367.7" x2="281.6" y2="370.3" stroke="#444" stroke-width="0.8"/><text x="281.6" y="378.5" text-anchor="middle">250</text></g>
<text x="49.6" y="286.9" transform="rotate(-90 49.6 286.9)" text-anchor="middle" font-family="DejaVu Sans, Liberation Sans, sans-serif" font-size="7.2" fill="#222" stroke="#222" stroke-width="0.2">Loss (MAE)</text>
<rect x="207.5" y="209.5" width="80.0" height="24.2" rx="1.5" fill="#fff" fill-opacity="0.8" stroke="#d6d6d6" stroke-width="0.8"/>
<line x1="209.8" y1="215.7" x2="225.7" y2="215.7" stroke="#ff0000" stroke-width="1.1"/>
<text x="231.1" y="218.3" font-family="DejaVu Sans, Liberation Sans, sans-serif" font-size="7.2" fill="#222" stroke="#222" stroke-width="0.15">Training Loss</text>
<line x1="209.8" y1="226.3" x2="225.7" y2="226.3" stroke="#0000ff" stroke-width="1.1"/>
<text x="231.1" y="228.9" font-family="DejaVu Sans, Liberation Sans, sans-serif" font-size="7.2" fill="#222" stroke="#222" stroke-width="0.15">Validation Loss</text>
<rect x="100.9" y="240.9" width="86.7" height="43.6" fill="rgb(86,190,126)" stroke="rgb(40,90,60)" stroke-width="0.7"/>
<g font-family="DejaVu Sans, Liberation Sans, sans-serif" font-size="8.7" fill="#0c1a10" stroke="#0c1a10" stroke-width="0.25"><text x="104.0" y="250.4">At the last eopch:</text><text x="104.0" y="260.1">Loss: 0.4809</text><text x="104.0" y="269.8">Val. Loss: 0.4956</text><text x="104.0" y="279.5">Loss Ratio: 0.9703</text></g>
<rect x="194.4" y="245.0" width="93.0" height="39.4" fill="rgb(252,126,128)"/>
<g font-family="Liberation Serif, serif" font-size="11" fill="#1a0a0a" stroke="#1a0a0a" stroke-width="0.25"><text x="260.3" y="256.8" text-anchor="end">No. of filters:</text><text x="264.4" y="256.8">20</text><text x="260.3" y="269.3" text-anchor="end">Dropout:</text><text x="264.4" y="269.3">0.45</text><text x="260.3" y="281.8" text-anchor="end">Learning rate:</text><text x="264.4" y="281.8">10<tspan font-size="6.8" dy="-3.0" stroke-width="0.1">-5</tspan></text></g>
<g clip-path="url(#c3)"><polyline points="336.2,231.5 337.0,259.9 337.8,272.2 338.6,278.8 339.3,274.3 340.1,280.0 340.9,279.9 341.7,283.8 342.5,283.4 343.3,290.5 344.1,293.3 344.9,298.3 345.7,295.9 346.5,296.6 347.3,292.5 348.1,301.0 348.9,292.4 349.7,299.9 350.4,297.6 351.2,297.2 352.0,298.4 352.8,299.1 353.6,302.1 354.4,302.3 355.2,307.5 356.0,301.9 356.8,307.4 357.6,308.7 358.4,311.3 359.2,305.5 360.0,310.0 360.8,311.8 361.5,308.6 362.3,314.6 363.1,313.4 363.9,314.9 364.7,314.6 365.5,310.1 366.3,310.3 367.1,311.4 367.9,313.3 368.7,314.6 369.5,312.3 370.3,313.6 371.1,314.2 371.9,315.7 372.7,317.4 373.4,318.6 374.2,324.4 375.0,319.7 375.8,321.1 376.6,322.9 377.4,320.0 378.2,321.5 379.0,322.5 379.8,324.3 380.6,319.9 381.4,323.7 382.2,322.4 383.0,323.7 383.8,325.4 384.5,325.1 385.3,326.2 386.1,324.6 386.9,324.6 387.7,325.7 388.5,323.2 389.3,328.4 390.1,324.3 390.9,323.6 391.7,331.2 392.5,326.7 393.3,324.8 394.1,331.8 394.9,327.3 395.6,330.7 396.4,326.8 397.2,328.4 398.0,325.5 398.8,323.5 399.6,327.7 400.4,329.9 401.2,332.1 402.0,336.0 402.8,328.7 403.6,333.4 404.4,330.0 405.2,331.1 406.0,328.3 406.7,328.4 407.5,330.1 408.3,329.3 409.1,332.1 409.9,330.6 410.7,335.1 411.5,332.8 412.3,332.9 413.1,335.2 413.9,333.9 414.7,332.8 415.5,332.8 416.3,332.9 417.1,335.6 417.9,335.1 418.6,334.2 419.4,335.3 420.2,335.3 421.0,334.9 421.8,330.8 422.6,336.9 423.4,331.5 424.2,334.5 425.0,335.5 425.8,334.2 426.6,333.8 427.4,337.0 428.2,334.7 429.0,332.5 429.7,335.6 430.5,330.9 431.3,338.4 432.1,337.2 432.9,335.0 433.7,339.9 434.5,339.8 435.3,335.3 436.1,336.5 436.9,337.6 437.7,339.0 438.5,337.4 439.3,335.7 440.1,338.2 440.8,339.1 441.6,337.3 442.4,337.0 443.2,333.2 444.0,331.2 444.8,330.0 445.6,335.4 446.4,339.0 447.2,333.7 448.0,338.9 448.8,338.5 449.6,336.3 450.4,336.5 451.2,336.8 451.9,334.8 452.7,336.1 453.5,336.7 454.3,336.3 455.1,338.8 455.9,335.5 456.7,339.0 457.5,335.6 458.3,337.0 459.1,335.8 459.9,337.5 460.7,337.3 461.5,338.3 462.3,336.5 463.1,336.4 463.8,337.5 464.6,340.1 465.4,337.8 466.2,342.3 467.0,336.9 467.8,331.8 468.6,337.4 469.4,342.1 470.2,338.5 471.0,337.6 471.8,336.8 472.6,341.7 473.4,341.0 474.2,340.4 474.9,339.9 475.7,342.2 476.5,340.9 477.3,336.5 478.1,341.0 478.9,339.7 479.7,339.2 480.5,341.2 481.3,336.7 482.1,333.2 482.9,343.1 483.7,342.0 484.5,339.6 485.3,339.1 486.0,340.5 486.8,337.2 487.6,340.7 488.4,339.6 489.2,339.4 490.0,338.2 490.8,338.8 491.6,342.8 492.4,343.4 493.2,341.6 494.0,340.4 494.8,338.7 495.6,342.2 496.4,344.2 497.1,337.2 497.9,345.0 498.7,336.1 499.5,340.2 500.3,341.8 501.1,338.0 501.9,337.7 502.7,341.5 503.5,343.1 504.3,340.2 505.1,344.3 505.9,339.6 506.7,345.3 507.5,341.7 508.3,342.0 509.0,342.9 509.8,342.3 510.6,345.7 511.4,346.6 512.2,343.0 513.0,341.5 513.8,339.3 514.6,340.3 515.4,342.0 516.2,341.8 517.0,342.0 517.8,342.1 518.6,343.3 519.4,339.2 520.1,340.0 520.9,344.8 521.7,344.2 522.5,341.2 523.3,345.3 524.1,341.0 524.9,342.0 525.7,338.6 526.5,344.5 527.3,342.7 528.1,345.1 528.9,344.3 529.7,343.0 530.5,343.2 531.2,345.6 532.0,342.6 532.8,342.7 533.6,343.1" fill="none" stroke="#ff0000" stroke-width="1.4" stroke-linejoin="round"/><polyline points="336.2,267.2 337.0,278.9 337.8,286.2 338.6,289.0 339.3,298.2 340.1,294.7 340.9,299.7 341.7,299.1 342.5,303.2 343.3,305.3 344.1,306.3 344.9,300.7 345.7,308.2 346.5,304.2 347.3,309.0 348.1,307.9 348.9,307.4 349.7,309.0 350.4,308.4 351.2,311.1 352.0,313.2 352.8,313.5 353.6,312.8 354.4,315.3 355.2,315.2 356.0,318.7 356.8,316.9 357.6,315.8 358.4,317.1 359.2,315.2 360.0,318.5 360.8,319.5 361.5,321.5 362.3,322.3 363.1,321.8 363.9,323.0 364.7,321.7 365.5,322.6 366.3,320.0 367.1,323.2 367.9,323.9 368.7,329.2 369.5,323.0 370.3,325.6 371.1,325.2 371.9,323.4 372.7,326.6 373.4,326.4 374.2,324.2 375.0,323.0 375.8,327.0 376.6,324.9 377.4,330.9 378.2,327.2 379.0,328.7 379.8,327.5 380.6,330.7 381.4,329.5 382.2,331.0 383.0,328.9 383.8,327.2 384.5,326.7 385.3,328.3 386.1,329.8 386.9,328.4 387.7,333.6 388.5,329.6 389.3,330.6 390.1,330.1 390.9,326.4 391.7,331.9 392.5,331.4 393.3,331.9 394.1,325.6 394.9,330.7 395.6,330.8 396.4,332.8 397.2,328.8 398.0,332.3 398.8,333.3 399.6,332.6 400.4,330.2 401.2,333.8 402.0,332.1 402.8,333.7 403.6,330.3 404.4,333.8 405.2,331.9 406.0,328.9 406.7,333.4 407.5,331.5 408.3,333.7 409.1,332.0 409.9,335.6 410.7,334.2 411.5,334.5 412.3,335.1 413.1,333.3 413.9,334.1 414.7,332.0 415.5,332.2 416.3,336.3 417.1,332.5 417.9,331.5 418.6,329.9 419.4,334.5 420.2,334.5 421.0,334.0 421.8,333.9 422.6,331.1 423.4,335.7 424.2,337.6 425.0,330.3 425.8,331.9 426.6,336.2 427.4,334.7 428.2,331.3 429.0,333.9 429.7,332.8 430.5,333.3 431.3,338.6 432.1,337.0 432.9,333.6 433.7,335.5 434.5,338.2 435.3,333.8 436.1,336.9 436.9,334.7 437.7,337.2 438.5,336.2 439.3,337.1 440.1,337.7 440.8,336.9 441.6,339.1 442.4,335.5 443.2,336.4 444.0,335.1 444.8,338.3 445.6,335.1 446.4,336.4 447.2,338.7 448.0,337.5 448.8,337.2 449.6,337.3 450.4,337.5 451.2,338.1 451.9,336.6 452.7,333.9 453.5,339.5 454.3,333.6 455.1,340.5 455.9,338.0 456.7,342.9 457.5,339.6 458.3,338.5 459.1,339.4 459.9,335.6 460.7,338.3 461.5,337.5 462.3,338.2 463.1,334.8 463.8,334.7 464.6,339.6 465.4,338.5 466.2,337.8 467.0,338.4 467.8,337.6 468.6,337.9 469.4,340.0 470.2,338.5 471.0,340.1 471.8,337.9 472.6,336.1 473.4,338.1 474.2,339.0 474.9,337.5 475.7,335.3 476.5,338.6 477.3,341.1 478.1,338.5 478.9,341.5 479.7,338.5 480.5,340.4 481.3,342.0 482.1,340.2 482.9,339.9 483.7,338.8 484.5,341.5 485.3,340.5 486.0,341.9 486.8,340.1 487.6,343.8 488.4,340.4 489.2,335.7 490.0,341.0 490.8,341.5 491.6,342.9 492.4,340.0 493.2,340.0 494.0,340.5 494.8,340.4 495.6,337.6 496.4,342.3 497.1,343.3 497.9,340.0 498.7,339.7 499.5,341.2 500.3,340.1 501.1,342.9 501.9,340.6 502.7,342.7 503.5,339.7 504.3,339.5 505.1,339.3 505.9,339.6 506.7,342.7 507.5,343.5 508.3,342.4 509.0,342.5 509.8,338.6 510.6,346.2 511.4,340.3 512.2,344.6 513.0,343.2 513.8,342.6 514.6,343.6 515.4,343.7 516.2,342.4 517.0,340.9 517.8,341.7 518.6,343.1 519.4,344.3 520.1,346.4 520.9,344.9 521.7,342.3 522.5,340.8 523.3,343.3 524.1,340.5 524.9,341.0 525.7,345.1 526.5,341.9 527.3,342.3 528.1,342.1 528.9,341.8 529.7,344.7 530.5,344.4 531.2,344.5 532.0,343.8 532.8,341.6 533.6,343.9" fill="none" stroke="#0000ff" stroke-width="1.4" stroke-linejoin="round"/></g>
<rect x="326.3" y="206.1" width="217.2" height="162.1" fill="none" stroke="#787878" stroke-width="1.3"/>
<g font-family="DejaVu Sans, Liberation Sans, sans-serif" font-size="7.2" fill="#222" stroke="#222" stroke-width="0.28"><line x1="323.7" y1="354.7" x2="326.3" y2="354.7" stroke="#444" stroke-width="0.8"/><text x="321.1" y="357.6" text-anchor="end">0.5</text><line x1="323.7" y1="321.0" x2="326.3" y2="321.0" stroke="#444" stroke-width="0.8"/><text x="321.1" y="323.9" text-anchor="end">1.0</text><line x1="323.7" y1="287.4" x2="326.3" y2="287.4" stroke="#444" stroke-width="0.8"/><text x="321.1" y="290.3" text-anchor="end">1.5</text><line x1="323.7" y1="253.8" x2="326.3" y2="253.8" stroke="#444" stroke-width="0.8"/><text x="321.1" y="256.6" text-anchor="end">2.0</text><line x1="323.7" y1="220.1" x2="326.3" y2="220.1" stroke="#444" stroke-width="0.8"/><text x="321.1" y="223.0" text-anchor="end">2.5</text><line x1="335.4" y1="368.2" x2="335.4" y2="370.8" stroke="#444" stroke-width="0.8"/><text x="335.4" y="379" text-anchor="middle">0</text><line x1="375.0" y1="368.2" x2="375.0" y2="370.8" stroke="#444" stroke-width="0.8"/><text x="375.0" y="379" text-anchor="middle">50</text><line x1="414.7" y1="368.2" x2="414.7" y2="370.8" stroke="#444" stroke-width="0.8"/><text x="414.7" y="379" text-anchor="middle">100</text><line x1="454.3" y1="368.2" x2="454.3" y2="370.8" stroke="#444" stroke-width="0.8"/><text x="454.3" y="379" text-anchor="middle">150</text><line x1="494.0" y1="368.2" x2="494.0" y2="370.8" stroke="#444" stroke-width="0.8"/><text x="494.0" y="379" text-anchor="middle">200</text><line x1="533.6" y1="368.2" x2="533.6" y2="370.8" stroke="#444" stroke-width="0.8"/><text x="533.6" y="379" text-anchor="middle">250</text></g>
<text x="306.1" y="288.1" transform="rotate(-90 306.1 288.1)" text-anchor="middle" font-family="DejaVu Sans, Liberation Sans, sans-serif" font-size="7.2" fill="#222" stroke="#222" stroke-width="0.2">RMSE</text>
<rect x="455.0" y="209.5" width="84.6" height="24.2" rx="1.5" fill="#fff" fill-opacity="0.8" stroke="#d6d6d6" stroke-width="0.8"/>
<line x1="457.3" y1="215.7" x2="473.2" y2="215.7" stroke="#ff0000" stroke-width="1.1"/>
<text x="478.6" y="218.3" font-family="DejaVu Sans, Liberation Sans, sans-serif" font-size="7.2" fill="#222" stroke="#222" stroke-width="0.15">Training RMSE</text>
<line x1="457.3" y1="226.3" x2="473.2" y2="226.3" stroke="#0000ff" stroke-width="1.1"/>
<text x="478.6" y="228.9" font-family="DejaVu Sans, Liberation Sans, sans-serif" font-size="7.2" fill="#222" stroke="#222" stroke-width="0.15">Validation RMSE</text>
<rect x="350.0" y="240.0" width="92.0" height="43.6" fill="rgb(86,190,126)" stroke="rgb(40,90,60)" stroke-width="0.7"/>
<g font-family="DejaVu Sans, Liberation Sans, sans-serif" font-size="8.7" fill="#0c1a10" stroke="#0c1a10" stroke-width="0.25"><text x="353.1" y="249.5">At the last eopch:</text><text x="353.1" y="259.2">RMSE: 0.6726</text><text x="353.1" y="268.9">Val. RMSE: 0.6605</text><text x="353.1" y="278.6">RMSE Ratio: 1.0183</text></g>
<rect x="446.8" y="244.2" width="91.9" height="39.2" fill="rgb(252,126,128)"/>
<g font-family="Liberation Serif, serif" font-size="11" fill="#1a0a0a" stroke="#1a0a0a" stroke-width="0.25"><text x="512.3" y="255.5" text-anchor="end">No. of filters:</text><text x="516.2" y="255.5">20</text><text x="512.3" y="268.0" text-anchor="end">Dropout:</text><text x="516.2" y="268.0">0.45</text><text x="512.3" y="280.5" text-anchor="end">Learning rate:</text><text x="516.2" y="280.5">10<tspan font-size="6.8" dy="-3.0" stroke-width="0.1">-5</tspan></text></g>
<g clip-path="url(#c4)"><polyline points="86.9,402.4 87.7,441.8 88.5,460.2 89.3,470.0 90.0,474.2 90.8,473.2 91.6,472.8 92.4,473.8 93.2,479.5 94.0,483.5 94.8,482.4 95.6,480.8 96.3,483.1 97.1,490.2 97.9,488.5 98.7,485.5 99.5,490.0 100.3,491.0 101.1,490.6 101.9,491.7 102.6,491.9 103.4,495.4 104.2,494.8 105.0,494.6 105.8,497.6 106.6,499.4 107.4,494.7 108.2,498.5 108.9,497.7 109.7,500.1 110.5,498.2 111.3,501.6 112.1,502.0 112.9,502.0 113.7,500.8 114.5,502.7 115.2,501.7 116.0,501.6 116.8,505.5 117.6,503.0 118.4,508.4 119.2,507.7 120.0,503.8 120.7,507.4 121.5,504.6 122.3,507.4 123.1,507.7 123.9,503.5 124.7,507.6 125.5,507.8 126.3,507.6 127.0,506.3 127.8,510.8 128.6,507.1 129.4,509.1 130.2,508.4 131.0,513.7 131.8,514.8 132.6,514.5 133.3,516.2 134.1,513.6 134.9,513.9 135.7,508.6 136.5,512.5 137.3,515.9 138.1,512.3 138.9,513.9 139.6,513.6 140.4,515.3 141.2,513.4 142.0,514.1 142.8,515.2 143.6,515.1 144.4,513.2 145.1,517.3 145.9,512.7 146.7,513.2 147.5,513.2 148.3,518.4 149.1,515.7 149.9,514.5 150.7,514.4 151.4,518.0 152.2,515.0 153.0,512.0 153.8,519.0 154.6,515.2 155.4,517.4 156.2,518.3 157.0,517.5 157.7,518.5 158.5,521.8 159.3,517.9 160.1,516.4 160.9,515.3 161.7,519.1 162.5,519.0 163.3,520.5 164.0,519.1 164.8,519.2 165.6,518.8 166.4,519.5 167.2,521.1 168.0,520.1 168.8,521.3 169.6,525.4 170.3,522.5 171.1,518.1 171.9,525.5 172.7,522.7 173.5,519.9 174.3,525.7 175.1,522.2 175.8,520.9 176.6,521.0 177.4,520.3 178.2,522.6 179.0,525.0 179.8,522.0 180.6,525.9 181.4,527.0 182.1,520.3 182.9,523.6 183.7,522.5 184.5,520.9 185.3,521.1 186.1,523.4 186.9,524.5 187.7,522.4 188.4,523.8 189.2,525.3 190.0,524.5 190.8,525.8 191.6,525.0 192.4,525.1 193.2,526.2 194.0,525.6 194.7,524.6 195.5,525.9 196.3,522.5 197.1,523.8 197.9,526.4 198.7,526.1 199.5,528.2 200.2,524.9 201.0,521.8 201.8,529.4 202.6,527.6 203.4,522.9 204.2,528.4 205.0,525.5 205.8,521.5 206.5,524.7 207.3,524.6 208.1,526.7 208.9,524.1 209.7,525.4 210.5,525.4 211.3,525.3 212.1,524.2 212.8,526.7 213.6,528.7 214.4,527.8 215.2,524.5 216.0,524.0 216.8,526.9 217.6,525.2 218.4,525.4 219.1,523.2 219.9,531.2 220.7,529.0 221.5,525.0 222.3,529.2 223.1,530.2 223.9,522.1 224.7,523.0 225.4,526.6 226.2,529.0 227.0,527.3 227.8,527.2 228.6,527.6 229.4,531.9 230.2,532.6 230.9,529.9 231.7,526.0 232.5,534.0 233.3,526.0 234.1,527.0 234.9,528.4 235.7,529.4 236.5,530.7 237.2,529.3 238.0,526.6 238.8,529.7 239.6,529.2 240.4,532.8 241.2,528.7 242.0,525.8 242.8,526.5 243.5,532.0 244.3,527.7 245.1,524.3 245.9,527.7 246.7,529.0 247.5,531.7 248.3,526.9 249.1,530.7 249.8,532.5 250.6,527.7 251.4,528.9 252.2,533.3 253.0,533.2 253.8,531.4 254.6,526.8 255.3,532.1 256.1,529.3 256.9,529.4 257.7,527.8 258.5,529.8 259.3,528.1 260.1,532.8 260.9,529.4 261.6,532.7 262.4,532.9 263.2,529.6 264.0,532.6 264.8,525.3 265.6,530.3 266.4,532.1 267.2,524.9 267.9,527.7 268.7,532.6 269.5,529.8 270.3,528.0 271.1,529.6 271.9,529.3 272.7,532.1 273.5,531.5 274.2,530.0 275.0,529.2 275.8,530.6 276.6,533.6 277.4,531.5 278.2,532.2 279.0,530.5 279.8,528.0 280.5,529.3 281.3,532.4 282.1,531.2 282.9,531.0" fill="none" stroke="#ff0000" stroke-width="1.4" stroke-linejoin="round"/><polyline points="86.9,448.1 87.7,465.8 88.5,476.2 89.3,481.1 90.0,483.7 90.8,488.2 91.6,484.8 92.4,484.8 93.2,488.4 94.0,488.5 94.8,491.7 95.6,490.2 96.3,494.6 97.1,497.9 97.9,497.8 98.7,500.4 99.5,503.0 100.3,501.4 101.1,506.7 101.9,503.7 102.6,504.1 103.4,504.5 104.2,501.8 105.0,502.8 105.8,506.3 106.6,505.7 107.4,509.1 108.2,504.1 108.9,507.9 109.7,510.5 110.5,509.9 111.3,512.5 112.1,508.3 112.9,510.8 113.7,511.3 114.5,511.2 115.2,512.2 116.0,512.1 116.8,510.6 117.6,509.7 118.4,512.3 119.2,511.1 120.0,512.9 120.7,513.8 121.5,512.3 122.3,509.3 123.1,512.1 123.9,514.1 124.7,512.7 125.5,515.2 126.3,513.7 127.0,514.1 127.8,513.1 128.6,514.3 129.4,516.5 130.2,514.5 131.0,514.8 131.8,514.4 132.6,517.1 133.3,513.7 134.1,515.4 134.9,518.1 135.7,519.2 136.5,516.8 137.3,518.6 138.1,513.8 138.9,518.1 139.6,517.2 140.4,514.7 141.2,513.7 142.0,515.7 142.8,516.8 143.6,513.7 144.4,510.1 145.1,514.8 145.9,518.3 146.7,515.3 147.5,515.1 148.3,517.3 149.1,520.0 149.9,517.9 150.7,520.6 151.4,519.4 152.2,523.3 153.0,519.7 153.8,520.1 154.6,520.2 155.4,520.8 156.2,524.6 157.0,520.0 157.7,519.6 158.5,520.8 159.3,522.4 160.1,519.8 160.9,522.8 161.7,522.9 162.5,521.6 163.3,521.6 164.0,520.9 164.8,521.8 165.6,518.1 166.4,524.5 167.2,525.3 168.0,522.3 168.8,522.9 169.6,520.0 170.3,522.3 171.1,523.8 171.9,523.9 172.7,523.7 173.5,524.9 174.3,523.6 175.1,522.8 175.8,526.0 176.6,520.3 177.4,521.5 178.2,519.4 179.0,522.1 179.8,522.0 180.6,522.9 181.4,522.1 182.1,523.1 182.9,524.1 183.7,523.1 184.5,523.3 185.3,521.5 186.1,521.2 186.9,522.5 187.7,524.4 188.4,523.5 189.2,524.6 190.0,524.4 190.8,524.6 191.6,521.5 192.4,524.8 193.2,524.0 194.0,526.0 194.7,523.6 195.5,523.3 196.3,522.6 197.1,523.1 197.9,520.3 198.7,522.6 199.5,523.0 200.2,524.7 201.0,522.1 201.8,523.4 202.6,526.1 203.4,522.5 204.2,524.7 205.0,519.9 205.8,523.3 206.5,524.2 207.3,525.0 208.1,522.8 208.9,522.0 209.7,526.1 210.5,524.0 211.3,523.0 212.1,525.3 212.8,525.1 213.6,523.5 214.4,523.8 215.2,521.6 216.0,524.4 216.8,523.4 217.6,524.1 218.4,527.2 219.1,525.4 219.9,524.4 220.7,522.2 221.5,525.5 222.3,526.8 223.1,523.2 223.9,523.7 224.7,523.8 225.4,524.4 226.2,524.1 227.0,522.2 227.8,523.9 228.6,522.2 229.4,527.0 230.2,526.5 230.9,525.0 231.7,525.4 232.5,525.1 233.3,525.3 234.1,525.4 234.9,524.7 235.7,524.9 236.5,523.1 237.2,523.7 238.0,524.3 238.8,525.7 239.6,524.8 240.4,528.4 241.2,525.2 242.0,524.9 242.8,526.2 243.5,527.2 244.3,528.5 245.1,527.2 245.9,524.8 246.7,525.5 247.5,527.4 248.3,526.2 249.1,527.1 249.8,525.8 250.6,528.5 251.4,528.3 252.2,527.8 253.0,526.3 253.8,523.6 254.6,524.1 255.3,526.7 256.1,525.6 256.9,521.7 257.7,525.6 258.5,528.2 259.3,527.9 260.1,525.7 260.9,527.5 261.6,526.6 262.4,526.2 263.2,528.3 264.0,528.4 264.8,525.8 265.6,525.2 266.4,524.7 267.2,524.6 267.9,528.9 268.7,528.3 269.5,527.2 270.3,528.6 271.1,525.9 271.9,526.9 272.7,528.5 273.5,527.6 274.2,527.1 275.0,524.5 275.8,524.9 276.6,526.6 277.4,526.4 278.2,527.2 279.0,526.3 279.8,527.0 280.5,527.5 281.3,528.2 282.1,527.6 282.9,527.4" fill="none" stroke="#0000ff" stroke-width="1.4" stroke-linejoin="round"/></g>
<rect x="77.1" y="390.3" width="215.6" height="160.3" fill="none" stroke="#787878" stroke-width="1.3"/>
<g font-family="DejaVu Sans, Liberation Sans, sans-serif" font-size="7.2" fill="#222" stroke="#222" stroke-width="0.28"><line x1="74.5" y1="546.8" x2="77.1" y2="546.8" stroke="#444" stroke-width="0.8"/><text x="71.9" y="549.6" text-anchor="end">0.25</text><line x1="74.5" y1="526.7" x2="77.1" y2="526.7" stroke="#444" stroke-width="0.8"/><text x="71.9" y="529.6" text-anchor="end">0.50</text><line x1="74.5" y1="506.6" x2="77.1" y2="506.6" stroke="#444" stroke-width="0.8"/><text x="71.9" y="509.5" text-anchor="end">0.75</text><line x1="74.5" y1="486.6" x2="77.1" y2="486.6" stroke="#444" stroke-width="0.8"/><text x="71.9" y="489.5" text-anchor="end">1.00</text><line x1="74.5" y1="466.5" x2="77.1" y2="466.5" stroke="#444" stroke-width="0.8"/><text x="71.9" y="469.4" text-anchor="end">1.25</text><line x1="74.5" y1="446.5" x2="77.1" y2="446.5" stroke="#444" stroke-width="0.8"/><text x="71.9" y="449.4" text-anchor="end">1.50</text><line x1="74.5" y1="426.4" x2="77.1" y2="426.4" stroke="#444" stroke-width="0.8"/><text x="71.9" y="429.3" text-anchor="end">1.75</text><line x1="74.5" y1="406.4" x2="77.1" y2="406.4" stroke="#444" stroke-width="0.8"/><text x="71.9" y="409.3" text-anchor="end">2.00</text><line x1="86.1" y1="550.6" x2="86.1" y2="553.2" stroke="#444" stroke-width="0.8"/><text x="86.1" y="561.4" text-anchor="middle">0</text><line x1="125.5" y1="550.6" x2="125.5" y2="553.2" stroke="#444" stroke-width="0.8"/><text x="125.5" y="561.4" text-anchor="middle">50</text><line x1="164.8" y1="550.6" x2="164.8" y2="553.2" stroke="#444" stroke-width="0.8"/><text x="164.8" y="561.4" text-anchor="middle">100</text><line x1="204.2" y1="550.6" x2="204.2" y2="553.2" stroke="#444" stroke-width="0.8"/><text x="204.2" y="561.4" text-anchor="middle">150</text><line x1="243.5" y1="550.6" x2="243.5" y2="553.2" stroke="#444" stroke-width="0.8"/><text x="243.5" y="561.4" text-anchor="middle">200</text><line x1="282.9" y1="550.6" x2="282.9" y2="553.2" stroke="#444" stroke-width="0.8"/><text x="282.9" y="561.4" text-anchor="middle">250</text></g>
<text x="51.1" y="470.5" transform="rotate(-90 51.1 470.5)" text-anchor="middle" font-family="DejaVu Sans, Liberation Sans, sans-serif" font-size="7.2" fill="#222" stroke="#222" stroke-width="0.2">Loss (MAE)</text>
<rect x="208.8" y="393.7" width="80.0" height="24.2" rx="1.5" fill="#fff" fill-opacity="0.8" stroke="#d6d6d6" stroke-width="0.8"/>
<line x1="211.1" y1="399.9" x2="227.0" y2="399.9" stroke="#ff0000" stroke-width="1.1"/>
<text x="232.4" y="402.5" font-family="DejaVu Sans, Liberation Sans, sans-serif" font-size="7.2" fill="#222" stroke="#222" stroke-width="0.15">Training Loss</text>
<line x1="211.1" y1="410.5" x2="227.0" y2="410.5" stroke="#0000ff" stroke-width="1.1"/>
<text x="232.4" y="413.1" font-family="DejaVu Sans, Liberation Sans, sans-serif" font-size="7.2" fill="#222" stroke="#222" stroke-width="0.15">Validation Loss</text>
<rect x="97.3" y="420.4" width="85.8" height="43.6" fill="rgb(86,190,126)" stroke="rgb(40,90,60)" stroke-width="0.7"/>
<g font-family="DejaVu Sans, Liberation Sans, sans-serif" font-size="8.7" fill="#0c1a10" stroke="#0c1a10" stroke-width="0.25"><text x="100.4" y="429.9">At the last eopch:</text><text x="100.4" y="439.6">Loss: 0.4464</text><text x="100.4" y="449.3">Val. Loss: 0.4907</text><text x="100.4" y="459.0">Loss Ratio: 0.9097</text></g>
<rect x="187.9" y="423.1" width="95.2" height="40.5" fill="rgb(252,126,128)"/>
<g font-family="Liberation Serif, serif" font-size="11" fill="#1a0a0a" stroke="#1a0a0a" stroke-width="0.25"><text x="256.4" y="435.0" text-anchor="end">No. of filters:</text><text x="260.6" y="435.0">24</text><text x="256.4" y="447.2" text-anchor="end">Dropout:</text><text x="260.6" y="447.2">0.45</text><text x="256.4" y="459.5" text-anchor="end">Learning rate:</text><text x="260.6" y="459.5">10<tspan font-size="6.8" dy="-3.0" stroke-width="0.1">-5</tspan></text></g>
<g clip-path="url(#c5)"><polyline points="335.0,397.5 335.8,435.9 336.6,452.2 337.4,458.1 338.1,464.4 338.9,465.2 339.7,465.5 340.5,470.6 341.3,470.8 342.1,473.9 342.9,475.4 343.7,474.0 344.4,475.6 345.2,479.4 346.0,478.4 346.8,483.5 347.6,482.6 348.4,487.0 349.2,484.1 350.0,486.0 350.7,484.2 351.5,485.4 352.3,485.7 353.1,489.6 353.9,486.3 354.7,486.8 355.5,492.1 356.3,490.2 357.0,495.5 357.8,494.4 358.6,494.9 359.4,492.3 360.2,497.7 361.0,496.0 361.8,499.4 362.6,496.5 363.3,497.8 364.1,497.4 364.9,498.9 365.7,500.1 366.5,498.7 367.3,505.4 368.1,500.5 368.8,501.3 369.6,502.7 370.4,506.0 371.2,502.1 372.0,504.3 372.8,505.3 373.6,500.1 374.4,505.3 375.1,506.1 375.9,503.6 376.7,504.6 377.5,501.9 378.3,502.3 379.1,505.3 379.9,508.0 380.7,506.1 381.4,508.2 382.2,510.2 383.0,508.7 383.8,510.2 384.6,512.6 385.4,506.9 386.2,511.6 387.0,508.0 387.7,511.4 388.5,511.2 389.3,509.8 390.1,508.8 390.9,511.3 391.7,510.8 392.5,512.2 393.2,510.2 394.0,513.6 394.8,510.4 395.6,512.2 396.4,512.2 397.2,516.1 398.0,510.2 398.8,512.8 399.5,516.6 400.3,512.7 401.1,511.6 401.9,515.2 402.7,514.1 403.5,516.9 404.3,513.3 405.1,516.0 405.8,517.3 406.6,518.4 407.4,514.0 408.2,519.8 409.0,515.0 409.8,513.9 410.6,515.3 411.4,518.0 412.1,517.2 412.9,519.2 413.7,519.5 414.5,519.4 415.3,516.1 416.1,523.1 416.9,514.5 417.7,515.8 418.4,518.7 419.2,517.3 420.0,514.7 420.8,518.8 421.6,518.9 422.4,515.3 423.2,522.6 423.9,523.6 424.7,523.6 425.5,519.8 426.3,521.3 427.1,518.6 427.9,521.6 428.7,519.7 429.5,522.1 430.2,520.5 431.0,520.4 431.8,520.5 432.6,524.2 433.4,518.0 434.2,517.6 435.0,520.3 435.8,522.2 436.5,522.6 437.3,522.5 438.1,522.3 438.9,523.9 439.7,523.2 440.5,523.1 441.3,520.1 442.1,525.9 442.8,522.5 443.6,524.7 444.4,523.1 445.2,525.3 446.0,522.9 446.8,523.1 447.6,523.0 448.3,523.1 449.1,521.7 449.9,522.7 450.7,526.1 451.5,521.0 452.3,528.5 453.1,521.2 453.9,522.8 454.6,528.9 455.4,522.2 456.2,525.4 457.0,525.2 457.8,523.4 458.6,520.8 459.4,520.6 460.2,524.1 460.9,525.1 461.7,519.5 462.5,524.7 463.3,523.0 464.1,526.5 464.9,525.0 465.7,522.9 466.5,523.8 467.2,524.9 468.0,527.8 468.8,531.7 469.6,525.8 470.4,525.4 471.2,526.7 472.0,525.4 472.8,526.9 473.5,526.4 474.3,525.7 475.1,524.0 475.9,526.2 476.7,527.9 477.5,523.8 478.3,529.4 479.0,525.1 479.8,525.9 480.6,530.1 481.4,523.8 482.2,529.0 483.0,530.5 483.8,526.0 484.6,526.4 485.3,528.8 486.1,530.0 486.9,527.9 487.7,527.6 488.5,529.2 489.3,527.9 490.1,524.7 490.9,527.1 491.6,527.5 492.4,524.4 493.2,528.6 494.0,526.2 494.8,529.6 495.6,524.8 496.4,526.1 497.2,525.0 497.9,531.1 498.7,531.2 499.5,531.7 500.3,531.8 501.1,530.6 501.9,530.7 502.7,525.1 503.4,529.6 504.2,527.9 505.0,528.4 505.8,526.5 506.6,534.4 507.4,529.7 508.2,526.2 509.0,530.6 509.7,529.4 510.5,527.4 511.3,529.0 512.1,528.1 512.9,524.8 513.7,526.5 514.5,531.1 515.3,528.7 516.0,530.7 516.8,527.5 517.6,528.9 518.4,530.4 519.2,531.9 520.0,528.6 520.8,528.2 521.6,533.1 522.3,530.8 523.1,529.9 523.9,529.2 524.7,529.4 525.5,534.5 526.3,533.2 527.1,530.2 527.9,525.1 528.6,535.0 529.4,534.8 530.2,534.1 531.0,531.5" fill="none" stroke="#ff0000" stroke-width="1.4" stroke-linejoin="round"/><polyline points="335.0,436.6 335.8,454.9 336.6,465.6 337.4,472.0 338.1,474.9 338.9,476.2 339.7,473.2 340.5,476.1 341.3,474.2 342.1,483.2 342.9,484.4 343.7,489.6 344.4,487.2 345.2,487.8 346.0,488.9 346.8,490.5 347.6,490.1 348.4,491.5 349.2,490.6 350.0,492.8 350.7,496.1 351.5,494.2 352.3,493.7 353.1,490.9 353.9,495.0 354.7,496.5 355.5,495.2 356.3,497.8 357.0,493.3 357.8,496.3 358.6,496.6 359.4,496.9 360.2,498.2 361.0,498.8 361.8,503.5 362.6,499.6 363.3,503.4 364.1,505.1 364.9,503.6 365.7,502.8 366.5,504.1 367.3,503.6 368.1,503.4 368.8,505.2 369.6,504.9 370.4,510.1 371.2,507.4 372.0,505.7 372.8,506.5 373.6,508.4 374.4,507.7 375.1,506.1 375.9,505.0 376.7,509.6 377.5,507.2 378.3,508.1 379.1,510.4 379.9,509.0 380.7,511.3 381.4,509.2 382.2,513.5 383.0,510.3 383.8,514.4 384.6,509.1 385.4,511.1 386.2,509.9 387.0,510.0 387.7,509.0 388.5,508.0 389.3,512.9 390.1,513.1 390.9,509.7 391.7,506.3 392.5,505.0 393.2,509.3 394.0,508.9 394.8,508.0 395.6,513.1 396.4,511.9 397.2,513.4 398.0,513.4 398.8,511.0 399.5,515.1 400.3,514.9 401.1,513.0 401.9,510.8 402.7,512.9 403.5,513.1 404.3,516.2 405.1,514.4 405.8,514.8 406.6,515.8 407.4,515.2 408.2,516.7 409.0,516.8 409.8,517.9 410.6,514.6 411.4,514.6 412.1,516.5 412.9,520.5 413.7,519.7 414.5,516.8 415.3,519.2 416.1,515.0 416.9,516.3 417.7,517.7 418.4,518.8 419.2,516.7 420.0,518.7 420.8,520.8 421.6,516.2 422.4,516.6 423.2,515.7 423.9,520.5 424.7,516.9 425.5,518.0 426.3,517.2 427.1,518.4 427.9,518.0 428.7,518.8 429.5,518.8 430.2,521.0 431.0,516.9 431.8,518.7 432.6,518.3 433.4,516.9 434.2,519.7 435.0,521.2 435.8,516.5 436.5,522.2 437.3,518.0 438.1,518.1 438.9,514.0 439.7,518.3 440.5,517.9 441.3,517.7 442.1,519.2 442.8,517.8 443.6,518.7 444.4,517.1 445.2,516.4 446.0,518.4 446.8,519.2 447.6,519.5 448.3,518.6 449.1,517.2 449.9,518.5 450.7,518.1 451.5,516.6 452.3,519.1 453.1,518.4 453.9,516.9 454.6,518.3 455.4,519.7 456.2,521.2 457.0,515.9 457.8,518.3 458.6,519.8 459.4,520.8 460.2,519.6 460.9,517.4 461.7,518.3 462.5,519.1 463.3,517.9 464.1,517.5 464.9,517.2 465.7,523.4 466.5,519.4 467.2,519.0 468.0,520.5 468.8,519.5 469.6,519.3 470.4,519.9 471.2,518.4 472.0,519.0 472.8,521.1 473.5,520.7 474.3,518.0 475.1,522.2 475.9,519.2 476.7,517.3 477.5,524.5 478.3,521.0 479.0,520.5 479.8,518.5 480.6,522.0 481.4,520.9 482.2,520.7 483.0,520.5 483.8,520.8 484.6,523.9 485.3,519.6 486.1,520.9 486.9,522.4 487.7,521.9 488.5,519.5 489.3,520.6 490.1,520.2 490.9,518.6 491.6,520.7 492.4,522.6 493.2,521.6 494.0,522.9 494.8,521.9 495.6,520.2 496.4,522.2 497.2,518.7 497.9,523.5 498.7,520.9 499.5,524.3 500.3,519.5 501.1,520.2 501.9,521.1 502.7,521.4 503.4,519.3 504.2,519.9 505.0,522.8 505.8,520.7 506.6,523.5 507.4,524.8 508.2,519.9 509.0,521.7 509.7,525.1 510.5,524.2 511.3,520.3 512.1,523.1 512.9,525.3 513.7,519.2 514.5,523.3 515.3,524.5 516.0,522.0 516.8,521.9 517.6,524.2 518.4,520.5 519.2,524.0 520.0,525.1 520.8,523.3 521.6,520.7 522.3,527.4 523.1,523.3 523.9,524.3 524.7,522.1 525.5,523.4 526.3,525.3 527.1,521.2 527.9,521.5 528.6,520.4 529.4,524.5 530.2,527.1 531.0,523.9" fill="none" stroke="#0000ff" stroke-width="1.4" stroke-linejoin="round"/></g>
<rect x="325.2" y="390" width="215.6" height="160.4" fill="none" stroke="#787878" stroke-width="1.3"/>
<g font-family="DejaVu Sans, Liberation Sans, sans-serif" font-size="7.2" fill="#222" stroke="#222" stroke-width="0.28"><line x1="322.6" y1="537.7" x2="325.2" y2="537.7" stroke="#444" stroke-width="0.8"/><text x="320" y="540.6" text-anchor="end">0.5</text><line x1="322.6" y1="504.0" x2="325.2" y2="504.0" stroke="#444" stroke-width="0.8"/><text x="320" y="506.9" text-anchor="end">1.0</text><line x1="322.6" y1="470.3" x2="325.2" y2="470.3" stroke="#444" stroke-width="0.8"/><text x="320" y="473.2" text-anchor="end">1.5</text><line x1="322.6" y1="436.6" x2="325.2" y2="436.6" stroke="#444" stroke-width="0.8"/><text x="320" y="439.5" text-anchor="end">2.0</text><line x1="322.6" y1="402.9" x2="325.2" y2="402.9" stroke="#444" stroke-width="0.8"/><text x="320" y="405.8" text-anchor="end">2.5</text><line x1="334.2" y1="550.4" x2="334.2" y2="553" stroke="#444" stroke-width="0.8"/><text x="334.2" y="561.2" text-anchor="middle">0</text><line x1="373.6" y1="550.4" x2="373.6" y2="553" stroke="#444" stroke-width="0.8"/><text x="373.6" y="561.2" text-anchor="middle">50</text><line x1="412.9" y1="550.4" x2="412.9" y2="553" stroke="#444" stroke-width="0.8"/><text x="412.9" y="561.2" text-anchor="middle">100</text><line x1="452.3" y1="550.4" x2="452.3" y2="553" stroke="#444" stroke-width="0.8"/><text x="452.3" y="561.2" text-anchor="middle">150</text><line x1="491.6" y1="550.4" x2="491.6" y2="553" stroke="#444" stroke-width="0.8"/><text x="491.6" y="561.2" text-anchor="middle">200</text><line x1="531.0" y1="550.4" x2="531.0" y2="553" stroke="#444" stroke-width="0.8"/><text x="531.0" y="561.2" text-anchor="middle">250</text></g>
<text x="305.0" y="471.2" transform="rotate(-90 305.0 471.2)" text-anchor="middle" font-family="DejaVu Sans, Liberation Sans, sans-serif" font-size="7.2" fill="#222" stroke="#222" stroke-width="0.2">RMSE</text>
<rect x="452.3" y="393.4" width="84.6" height="24.2" rx="1.5" fill="#fff" fill-opacity="0.8" stroke="#d6d6d6" stroke-width="0.8"/>
<line x1="454.6" y1="399.6" x2="470.5" y2="399.6" stroke="#ff0000" stroke-width="1.1"/>
<text x="475.9" y="402.2" font-family="DejaVu Sans, Liberation Sans, sans-serif" font-size="7.2" fill="#222" stroke="#222" stroke-width="0.15">Training RMSE</text>
<line x1="454.6" y1="410.2" x2="470.5" y2="410.2" stroke="#0000ff" stroke-width="1.1"/>
<text x="475.9" y="412.8" font-family="DejaVu Sans, Liberation Sans, sans-serif" font-size="7.2" fill="#222" stroke="#222" stroke-width="0.15">Validation RMSE</text>
<rect x="344.5" y="418.2" width="91.8" height="43.3" fill="rgb(86,190,126)" stroke="rgb(40,90,60)" stroke-width="0.7"/>
<g font-family="DejaVu Sans, Liberation Sans, sans-serif" font-size="8.7" fill="#0c1a10" stroke="#0c1a10" stroke-width="0.25"><text x="347.6" y="427.7">At the last eopch:</text><text x="347.6" y="437.4">RMSE: 0.5922</text><text x="347.6" y="447.1">Val. RMSE: 0.7047</text><text x="347.6" y="456.8">RMSE Ratio: 0.8404</text></g>
<rect x="440.9" y="420.5" width="95.4" height="41.0" fill="rgb(252,126,128)"/>
<g font-family="Liberation Serif, serif" font-size="11" fill="#1a0a0a" stroke="#1a0a0a" stroke-width="0.25"><text x="509.1" y="432.4" text-anchor="end">No. of filters:</text><text x="513.5" y="432.4">24</text><text x="509.1" y="444.4" text-anchor="end">Dropout:</text><text x="513.5" y="444.4">0.45</text><text x="509.1" y="456.5" text-anchor="end">Learning rate:</text><text x="513.5" y="456.5">10<tspan font-size="6.8" dy="-3.0" stroke-width="0.1">-5</tspan></text></g>
<g clip-path="url(#c6)"><polyline points="88.6,603.8 89.4,641.9 90.2,660.5 91.0,665.0 91.7,667.7 92.5,668.0 93.3,671.7 94.1,676.9 94.9,675.0 95.7,676.7 96.5,680.8 97.3,682.0 98.0,682.7 98.8,681.6 99.6,684.7 100.4,687.3 101.2,683.4 102.0,685.9 102.8,683.3 103.6,685.2 104.3,684.4 105.1,688.4 105.9,686.6 106.7,690.6 107.5,690.9 108.3,690.6 109.1,686.0 109.9,690.9 110.6,692.4 111.4,690.9 112.2,689.9 113.0,692.4 113.8,691.6 114.6,692.2 115.4,696.5 116.2,692.6 116.9,694.5 117.7,696.8 118.5,693.7 119.3,695.5 120.1,696.7 120.9,697.3 121.7,695.1 122.4,698.6 123.2,702.1 124.0,696.3 124.8,702.2 125.6,701.2 126.4,700.1 127.2,706.5 128.0,704.3 128.7,700.2 129.5,703.1 130.3,704.4 131.1,702.8 131.9,703.0 132.7,703.4 133.5,705.2 134.3,707.0 135.0,702.5 135.8,704.6 136.6,703.2 137.4,704.8 138.2,702.2 139.0,703.8 139.8,704.9 140.6,707.6 141.3,708.4 142.1,703.2 142.9,704.7 143.7,708.1 144.5,702.5 145.3,706.1 146.1,707.2 146.8,710.4 147.6,709.4 148.4,707.4 149.2,707.5 150.0,708.0 150.8,712.1 151.6,708.1 152.4,708.6 153.1,710.2 153.9,709.4 154.7,712.9 155.5,707.6 156.3,713.0 157.1,709.4 157.9,713.1 158.7,712.1 159.4,710.7 160.2,710.2 161.0,710.3 161.8,713.5 162.6,711.4 163.4,712.8 164.2,708.8 165.0,712.5 165.7,708.2 166.5,705.4 167.3,711.5 168.1,710.3 168.9,712.8 169.7,717.5 170.5,710.9 171.3,711.5 172.0,713.4 172.8,714.2 173.6,713.2 174.4,713.6 175.2,716.0 176.0,716.1 176.8,713.1 177.5,715.7 178.3,716.4 179.1,714.0 179.9,716.9 180.7,714.4 181.5,718.4 182.3,716.7 183.1,716.5 183.8,715.0 184.6,716.0 185.4,711.9 186.2,713.8 187.0,717.1 187.8,711.6 188.6,720.8 189.4,712.5 190.1,718.0 190.9,712.4 191.7,718.0 192.5,716.6 193.3,712.9 194.1,719.0 194.9,719.5 195.7,716.2 196.4,715.7 197.2,715.9 198.0,714.2 198.8,718.9 199.6,715.4 200.4,716.6 201.2,715.0 201.9,715.5 202.7,714.1 203.5,719.8 204.3,716.8 205.1,719.3 205.9,717.3 206.7,715.9 207.5,716.7 208.2,716.3 209.0,717.7 209.8,716.9 210.6,717.1 211.4,714.9 212.2,716.2 213.0,721.7 213.8,716.7 214.5,715.9 215.3,719.0 216.1,721.5 216.9,715.3 217.7,718.1 218.5,717.2 219.3,714.8 220.1,720.4 220.8,718.8 221.6,720.8 222.4,717.4 223.2,717.6 224.0,718.0 224.8,718.9 225.6,716.9 226.4,716.7 227.1,722.4 227.9,718.4 228.7,720.2 229.5,719.6 230.3,718.8 231.1,718.7 231.9,719.3 232.6,719.3 233.4,719.7 234.2,720.2 235.0,722.8 235.8,721.7 236.6,721.2 237.4,719.1 238.2,717.4 238.9,722.6 239.7,722.7 240.5,720.3 241.3,721.8 242.1,722.4 242.9,722.6 243.7,722.8 244.5,719.9 245.2,724.3 246.0,718.2 246.8,722.9 247.6,722.2 248.4,723.1 249.2,725.3 250.0,724.5 250.8,718.8 251.5,717.6 252.3,723.2 253.1,719.2 253.9,721.5 254.7,723.4 255.5,718.0 256.3,717.0 257.0,722.3 257.8,721.8 258.6,721.2 259.4,720.2 260.2,720.0 261.0,718.6 261.8,721.6 262.6,719.9 263.3,718.5 264.1,723.2 264.9,722.0 265.7,723.1 266.5,720.1 267.3,720.9 268.1,720.2 268.9,720.5 269.6,722.9 270.4,720.8 271.2,723.3 272.0,723.3 272.8,727.1 273.6,719.6 274.4,724.7 275.2,722.6 275.9,722.8 276.7,719.7 277.5,721.9 278.3,724.6 279.1,722.8 279.9,723.2 280.7,722.4 281.5,725.7 282.2,723.1 283.0,718.4 283.8,721.7 284.6,723.3" fill="none" stroke="#ff0000" stroke-width="1.4" stroke-linejoin="round"/><polyline points="88.6,655.2 89.4,671.5 90.2,679.8 91.0,684.9 91.7,688.1 92.5,687.9 93.3,691.2 94.1,693.1 94.9,690.8 95.7,691.0 96.5,682.3 97.3,689.8 98.0,691.8 98.8,695.4 99.6,693.6 100.4,695.4 101.2,693.7 102.0,696.0 102.8,696.4 103.6,695.4 104.3,699.7 105.1,697.3 105.9,699.9 106.7,698.9 107.5,696.6 108.3,697.3 109.1,698.9 109.9,698.6 110.6,698.8 111.4,698.5 112.2,696.3 113.0,699.1 113.8,695.8 114.6,699.8 115.4,697.9 116.2,697.8 116.9,698.5 117.7,699.2 118.5,696.3 119.3,696.4 120.1,698.0 120.9,696.9 121.7,699.1 122.4,703.7 123.2,699.9 124.0,699.9 124.8,700.3 125.6,703.5 126.4,702.9 127.2,703.7 128.0,705.2 128.7,707.1 129.5,704.6 130.3,704.4 131.1,702.7 131.9,705.2 132.7,703.9 133.5,705.6 134.3,704.2 135.0,707.0 135.8,699.5 136.6,700.6 137.4,704.1 138.2,703.7 139.0,703.3 139.8,704.5 140.6,705.5 141.3,705.8 142.1,709.9 142.9,708.1 143.7,704.9 144.5,705.6 145.3,706.6 146.1,709.2 146.8,706.5 147.6,706.9 148.4,709.6 149.2,709.8 150.0,708.0 150.8,707.1 151.6,706.6 152.4,708.2 153.1,705.9 153.9,714.2 154.7,708.9 155.5,710.7 156.3,713.0 157.1,712.0 157.9,708.3 158.7,711.6 159.4,712.2 160.2,709.2 161.0,709.0 161.8,710.4 162.6,708.1 163.4,713.0 164.2,706.9 165.0,709.1 165.7,710.5 166.5,710.6 167.3,711.3 168.1,711.5 168.9,710.8 169.7,713.0 170.5,707.9 171.3,711.4 172.0,710.3 172.8,711.7 173.6,711.8 174.4,709.9 175.2,710.2 176.0,712.5 176.8,711.7 177.5,710.0 178.3,714.2 179.1,714.6 179.9,708.5 180.7,711.3 181.5,714.7 182.3,711.9 183.1,710.9 183.8,710.2 184.6,709.6 185.4,710.0 186.2,709.4 187.0,711.4 187.8,706.4 188.6,709.4 189.4,708.1 190.1,709.9 190.9,708.5 191.7,709.6 192.5,707.9 193.3,703.2 194.1,707.1 194.9,710.4 195.7,710.0 196.4,709.7 197.2,709.4 198.0,711.2 198.8,708.3 199.6,712.2 200.4,710.2 201.2,709.0 201.9,709.5 202.7,709.3 203.5,710.7 204.3,709.4 205.1,712.4 205.9,709.4 206.7,707.1 207.5,709.6 208.2,707.7 209.0,710.9 209.8,712.7 210.6,712.1 211.4,709.0 212.2,710.0 213.0,714.1 213.8,711.9 214.5,711.4 215.3,713.2 216.1,715.5 216.9,713.7 217.7,711.9 218.5,712.3 219.3,712.8 220.1,710.9 220.8,710.2 221.6,712.1 222.4,710.5 223.2,712.0 224.0,712.3 224.8,716.0 225.6,710.9 226.4,712.1 227.1,712.1 227.9,713.2 228.7,714.2 229.5,711.8 230.3,711.3 231.1,710.1 231.9,711.3 232.6,713.7 233.4,712.9 234.2,711.3 235.0,712.4 235.8,713.1 236.6,713.9 237.4,712.2 238.2,712.9 238.9,710.5 239.7,711.6 240.5,716.1 241.3,710.1 242.1,713.2 242.9,714.2 243.7,713.3 244.5,712.7 245.2,714.0 246.0,714.2 246.8,714.1 247.6,708.9 248.4,714.2 249.2,713.1 250.0,713.7 250.8,715.0 251.5,715.8 252.3,716.3 253.1,712.1 253.9,716.5 254.7,717.0 255.5,717.0 256.3,717.5 257.0,715.1 257.8,715.1 258.6,716.8 259.4,713.4 260.2,716.0 261.0,712.0 261.8,715.2 262.6,713.1 263.3,714.6 264.1,716.0 264.9,717.6 265.7,717.8 266.5,716.2 267.3,716.1 268.1,715.1 268.9,717.2 269.6,716.2 270.4,717.6 271.2,719.6 272.0,716.8 272.8,714.5 273.6,715.6 274.4,714.7 275.2,715.2 275.9,719.3 276.7,717.6 277.5,714.9 278.3,718.5 279.1,719.5 279.9,717.0 280.7,716.6 281.5,717.2 282.2,718.2 283.0,718.9 283.8,718.3 284.6,718.0" fill="none" stroke="#0000ff" stroke-width="1.4" stroke-linejoin="round"/></g>
<rect x="78.8" y="581.6" width="215.6" height="160.4" fill="none" stroke="#787878" stroke-width="1.3"/>
<g font-family="DejaVu Sans, Liberation Sans, sans-serif" font-size="7.2" fill="#222" stroke="#222" stroke-width="0.28"><line x1="76.2" y1="738.8" x2="78.8" y2="738.8" stroke="#444" stroke-width="0.8"/><text x="73.6" y="741.7" text-anchor="end">0.25</text><line x1="76.2" y1="718.7" x2="78.8" y2="718.7" stroke="#444" stroke-width="0.8"/><text x="73.6" y="721.6" text-anchor="end">0.50</text><line x1="76.2" y1="698.6" x2="78.8" y2="698.6" stroke="#444" stroke-width="0.8"/><text x="73.6" y="701.5" text-anchor="end">0.75</text><line x1="76.2" y1="678.5" x2="78.8" y2="678.5" stroke="#444" stroke-width="0.8"/><text x="73.6" y="681.4" text-anchor="end">1.00</text><line x1="76.2" y1="658.5" x2="78.8" y2="658.5" stroke="#444" stroke-width="0.8"/><text x="73.6" y="661.4" text-anchor="end">1.25</text><line x1="76.2" y1="638.4" x2="78.8" y2="638.4" stroke="#444" stroke-width="0.8"/><text x="73.6" y="641.3" text-anchor="end">1.50</text><line x1="76.2" y1="618.3" x2="78.8" y2="618.3" stroke="#444" stroke-width="0.8"/><text x="73.6" y="621.2" text-anchor="end">1.75</text><line x1="76.2" y1="598.2" x2="78.8" y2="598.2" stroke="#444" stroke-width="0.8"/><text x="73.6" y="601.1" text-anchor="end">2.00</text><line x1="87.8" y1="742" x2="87.8" y2="744.6" stroke="#444" stroke-width="0.8"/><text x="87.8" y="752.8" text-anchor="middle">0</text><line x1="127.2" y1="742" x2="127.2" y2="744.6" stroke="#444" stroke-width="0.8"/><text x="127.2" y="752.8" text-anchor="middle">50</text><line x1="166.5" y1="742" x2="166.5" y2="744.6" stroke="#444" stroke-width="0.8"/><text x="166.5" y="752.8" text-anchor="middle">100</text><line x1="205.9" y1="742" x2="205.9" y2="744.6" stroke="#444" stroke-width="0.8"/><text x="205.9" y="752.8" text-anchor="middle">150</text><line x1="245.2" y1="742" x2="245.2" y2="744.6" stroke="#444" stroke-width="0.8"/><text x="245.2" y="752.8" text-anchor="middle">200</text><line x1="284.6" y1="742" x2="284.6" y2="744.6" stroke="#444" stroke-width="0.8"/><text x="284.6" y="752.8" text-anchor="middle">250</text></g>
<text x="52.8" y="661.8" transform="rotate(-90 52.8 661.8)" text-anchor="middle" font-family="DejaVu Sans, Liberation Sans, sans-serif" font-size="7.2" fill="#222" stroke="#222" stroke-width="0.2">Loss (MAE)</text>
<rect x="210.5" y="585.0" width="80.0" height="24.2" rx="1.5" fill="#fff" fill-opacity="0.8" stroke="#d6d6d6" stroke-width="0.8"/>
<line x1="212.8" y1="591.2" x2="228.7" y2="591.2" stroke="#ff0000" stroke-width="1.1"/>
<text x="234.1" y="593.8" font-family="DejaVu Sans, Liberation Sans, sans-serif" font-size="7.2" fill="#222" stroke="#222" stroke-width="0.15">Training Loss</text>
<line x1="212.8" y1="601.8" x2="228.7" y2="601.8" stroke="#0000ff" stroke-width="1.1"/>
<text x="234.1" y="604.4" font-family="DejaVu Sans, Liberation Sans, sans-serif" font-size="7.2" fill="#222" stroke="#222" stroke-width="0.15">Validation Loss</text>
<rect x="98.2" y="618.2" width="86.7" height="43.3" fill="rgb(86,190,126)" stroke="rgb(40,90,60)" stroke-width="0.7"/>
<g font-family="DejaVu Sans, Liberation Sans, sans-serif" font-size="8.7" fill="#0c1a10" stroke="#0c1a10" stroke-width="0.25"><text x="101.3" y="627.7">At the last eopch:</text><text x="101.3" y="637.4">Loss: 0.4428</text><text x="101.3" y="647.1">Val. Loss: 0.5089</text><text x="101.3" y="656.8">Loss Ratio: 0.8701</text></g>
<rect x="190.9" y="622.0" width="91.7" height="40.4" fill="rgb(252,126,128)"/>
<g font-family="Liberation Serif, serif" font-size="11" fill="#1a0a0a" stroke="#1a0a0a" stroke-width="0.25"><text x="256.4" y="633.0" text-anchor="end">No. of filters:</text><text x="260.9" y="633.0">28</text><text x="256.4" y="645.5" text-anchor="end">Dropout:</text><text x="260.9" y="645.5">0.45</text><text x="256.4" y="658.0" text-anchor="end">Learning rate:</text><text x="260.9" y="658.0">10<tspan font-size="6.8" dy="-3.0" stroke-width="0.1">-5</tspan></text></g>
<g clip-path="url(#c7)"><polyline points="336.3,599.4 337.1,644.0 337.9,651.8 338.7,655.4 339.5,654.0 340.3,661.1 341.1,661.8 341.8,666.1 342.6,671.5 343.4,674.8 344.2,674.9 345.0,674.4 345.8,677.7 346.6,678.1 347.4,676.6 348.2,680.4 348.9,679.9 349.7,684.0 350.5,679.8 351.3,681.7 352.1,683.9 352.9,684.3 353.7,680.8 354.5,686.0 355.3,685.6 356.0,683.6 356.8,686.9 357.6,688.4 358.4,684.5 359.2,692.5 360.0,687.8 360.8,685.3 361.6,690.6 362.4,694.5 363.1,690.7 363.9,695.8 364.7,696.3 365.5,693.6 366.3,688.4 367.1,691.6 367.9,697.4 368.7,693.5 369.5,692.5 370.2,693.3 371.0,696.7 371.8,697.1 372.6,699.5 373.4,700.2 374.2,696.4 375.0,698.6 375.8,696.8 376.6,699.7 377.3,697.4 378.1,697.6 378.9,705.2 379.7,700.9 380.5,702.5 381.3,707.0 382.1,700.2 382.9,701.7 383.7,702.3 384.5,700.9 385.2,705.1 386.0,702.2 386.8,707.0 387.6,702.5 388.4,702.7 389.2,702.7 390.0,702.5 390.8,704.4 391.6,707.2 392.3,703.2 393.1,705.2 393.9,709.0 394.7,704.4 395.5,706.3 396.3,708.7 397.1,706.6 397.9,704.2 398.7,701.2 399.4,711.2 400.2,707.0 401.0,709.0 401.8,705.3 402.6,710.5 403.4,707.9 404.2,707.1 405.0,705.3 405.8,708.3 406.5,706.7 407.3,707.5 408.1,704.7 408.9,709.7 409.7,709.1 410.5,706.2 411.3,709.4 412.1,710.9 412.9,709.0 413.6,708.6 414.4,708.8 415.2,712.4 416.0,707.2 416.8,710.1 417.6,710.1 418.4,713.3 419.2,711.3 420.0,709.2 420.7,716.4 421.5,712.3 422.3,708.9 423.1,709.9 423.9,712.1 424.7,713.2 425.5,708.9 426.3,713.4 427.1,711.3 427.8,710.1 428.6,713.7 429.4,715.6 430.2,711.7 431.0,711.2 431.8,714.7 432.6,709.5 433.4,712.5 434.2,712.4 434.9,714.1 435.7,712.5 436.5,711.3 437.3,713.2 438.1,709.4 438.9,713.7 439.7,710.4 440.5,709.9 441.3,711.1 442.0,712.0 442.8,713.4 443.6,711.4 444.4,713.5 445.2,714.1 446.0,711.9 446.8,710.1 447.6,714.4 448.4,713.2 449.1,708.0 449.9,710.6 450.7,713.3 451.5,710.1 452.3,711.7 453.1,709.6 453.9,716.7 454.7,714.1 455.5,714.1 456.2,717.0 457.0,713.2 457.8,713.5 458.6,718.7 459.4,711.5 460.2,713.7 461.0,711.7 461.8,715.2 462.6,719.5 463.3,715.5 464.1,716.5 464.9,720.4 465.7,714.1 466.5,714.9 467.3,716.2 468.1,712.7 468.9,718.2 469.7,719.4 470.4,717.6 471.2,716.8 472.0,715.9 472.8,718.3 473.6,711.8 474.4,716.2 475.2,717.2 476.0,712.4 476.8,717.8 477.5,716.7 478.3,717.0 479.1,717.4 479.9,718.5 480.7,718.4 481.5,715.2 482.3,717.3 483.1,717.3 483.9,717.9 484.6,719.8 485.4,720.1 486.2,721.0 487.0,721.6 487.8,722.5 488.6,721.7 489.4,717.5 490.2,719.5 491.0,717.9 491.8,720.1 492.5,718.7 493.3,721.2 494.1,722.8 494.9,715.1 495.7,721.5 496.5,718.6 497.3,716.8 498.1,718.4 498.9,719.0 499.6,715.7 500.4,721.0 501.2,723.4 502.0,717.6 502.8,719.5 503.6,721.8 504.4,721.2 505.2,720.9 506.0,720.0 506.7,722.9 507.5,721.5 508.3,718.5 509.1,715.6 509.9,715.2 510.7,722.6 511.5,720.7 512.3,724.5 513.1,722.6 513.8,718.7 514.6,722.3 515.4,724.3 516.2,721.6 517.0,720.8 517.8,725.8 518.6,718.2 519.4,719.7 520.2,724.5 520.9,722.8 521.7,719.9 522.5,719.3 523.3,723.6 524.1,725.3 524.9,724.6 525.7,723.7 526.5,726.2 527.3,723.7 528.0,721.3 528.8,727.6 529.6,720.5 530.4,723.0 531.2,723.3 532.0,726.6 532.8,723.6" fill="none" stroke="#ff0000" stroke-width="1.4" stroke-linejoin="round"/><polyline points="336.3,642.9 337.1,659.6 337.9,669.4 338.7,675.0 339.5,676.2 340.3,678.9 341.1,681.8 341.8,682.2 342.6,686.3 343.4,687.7 344.2,686.3 345.0,688.7 345.8,686.6 346.6,687.7 347.4,685.9 348.2,691.0 348.9,688.3 349.7,691.4 350.5,691.5 351.3,690.5 352.1,690.7 352.9,689.3 353.7,692.9 354.5,693.0 355.3,694.3 356.0,693.6 356.8,691.6 357.6,692.0 358.4,695.5 359.2,696.8 360.0,693.9 360.8,694.4 361.6,695.1 362.4,695.1 363.1,695.4 363.9,694.6 364.7,695.4 365.5,691.5 366.3,689.6 367.1,693.9 367.9,695.9 368.7,695.3 369.5,697.3 370.2,695.3 371.0,696.0 371.8,695.3 372.6,697.4 373.4,697.9 374.2,696.3 375.0,695.4 375.8,697.5 376.6,697.1 377.3,694.2 378.1,698.2 378.9,698.1 379.7,696.1 380.5,696.4 381.3,696.3 382.1,693.2 382.9,697.1 383.7,693.9 384.5,693.2 385.2,695.9 386.0,691.6 386.8,697.2 387.6,696.4 388.4,698.0 389.2,698.3 390.0,699.1 390.8,700.0 391.6,698.5 392.3,700.9 393.1,698.0 393.9,702.5 394.7,697.8 395.5,704.3 396.3,698.1 397.1,701.6 397.9,700.8 398.7,701.8 399.4,701.5 400.2,701.3 401.0,700.7 401.8,698.3 402.6,703.6 403.4,704.7 404.2,700.9 405.0,704.2 405.8,700.3 406.5,702.8 407.3,702.2 408.1,703.5 408.9,701.6 409.7,702.3 410.5,702.1 411.3,701.8 412.1,702.3 412.9,702.3 413.6,704.5 414.4,704.4 415.2,703.5 416.0,703.4 416.8,701.1 417.6,705.8 418.4,702.3 419.2,706.0 420.0,703.0 420.7,703.2 421.5,705.6 422.3,705.0 423.1,702.7 423.9,706.8 424.7,707.5 425.5,704.2 426.3,704.6 427.1,702.9 427.8,702.7 428.6,706.2 429.4,704.4 430.2,701.0 431.0,702.9 431.8,708.2 432.6,703.9 433.4,705.3 434.2,700.8 434.9,703.9 435.7,701.8 436.5,703.7 437.3,702.5 438.1,703.4 438.9,706.3 439.7,705.2 440.5,703.2 441.3,702.8 442.0,702.8 442.8,706.1 443.6,705.8 444.4,702.6 445.2,704.1 446.0,702.0 446.8,703.9 447.6,702.8 448.4,705.9 449.1,706.4 449.9,701.9 450.7,700.8 451.5,701.9 452.3,707.2 453.1,702.2 453.9,701.6 454.7,702.8 455.5,703.2 456.2,705.0 457.0,702.9 457.8,706.9 458.6,704.2 459.4,704.8 460.2,706.6 461.0,704.7 461.8,705.0 462.6,705.5 463.3,703.4 464.1,703.7 464.9,705.8 465.7,703.4 466.5,703.8 467.3,706.3 468.1,705.8 468.9,705.5 469.7,703.1 470.4,708.2 471.2,704.8 472.0,701.6 472.8,704.9 473.6,703.8 474.4,704.8 475.2,708.5 476.0,702.9 476.8,709.0 477.5,703.9 478.3,703.9 479.1,707.7 479.9,708.7 480.7,705.0 481.5,707.0 482.3,704.4 483.1,705.1 483.9,704.5 484.6,706.0 485.4,704.9 486.2,706.3 487.0,705.6 487.8,706.3 488.6,706.5 489.4,705.5 490.2,706.0 491.0,704.9 491.8,707.7 492.5,708.2 493.3,706.6 494.1,706.8 494.9,706.5 495.7,706.8 496.5,707.9 497.3,705.0 498.1,705.5 498.9,708.1 499.6,709.5 500.4,707.1 501.2,709.6 502.0,710.0 502.8,708.8 503.6,712.3 504.4,708.7 505.2,709.2 506.0,707.3 506.7,707.6 507.5,709.5 508.3,710.4 509.1,709.2 509.9,709.6 510.7,709.9 511.5,711.1 512.3,707.3 513.1,711.4 513.8,708.8 514.6,711.1 515.4,711.7 516.2,708.3 517.0,712.4 517.8,710.8 518.6,710.0 519.4,713.8 520.2,709.0 520.9,708.7 521.7,711.5 522.5,712.0 523.3,711.1 524.1,712.5 524.9,707.9 525.7,713.4 526.5,712.2 527.3,708.1 528.0,710.2 528.8,713.0 529.6,713.0 530.4,711.4 531.2,712.7 532.0,712.7 532.8,713.0" fill="none" stroke="#0000ff" stroke-width="1.4" stroke-linejoin="round"/></g>
<rect x="326.5" y="581.4" width="216.1" height="160.7" fill="none" stroke="#787878" stroke-width="1.3"/>
<g font-family="DejaVu Sans, Liberation Sans, sans-serif" font-size="7.2" fill="#222" stroke="#222" stroke-width="0.28"><line x1="323.9" y1="728.6" x2="326.5" y2="728.6" stroke="#444" stroke-width="0.8"/><text x="321.3" y="731.5" text-anchor="end">0.5</text><line x1="323.9" y1="695.1" x2="326.5" y2="695.1" stroke="#444" stroke-width="0.8"/><text x="321.3" y="698.0" text-anchor="end">1.0</text><line x1="323.9" y1="661.7" x2="326.5" y2="661.7" stroke="#444" stroke-width="0.8"/><text x="321.3" y="664.6" text-anchor="end">1.5</text><line x1="323.9" y1="628.2" x2="326.5" y2="628.2" stroke="#444" stroke-width="0.8"/><text x="321.3" y="631.1" text-anchor="end">2.0</text><line x1="323.9" y1="594.7" x2="326.5" y2="594.7" stroke="#444" stroke-width="0.8"/><text x="321.3" y="597.6" text-anchor="end">2.5</text><line x1="335.5" y1="742.1" x2="335.5" y2="744.7" stroke="#444" stroke-width="0.8"/><text x="335.5" y="752.9" text-anchor="middle">0</text><line x1="375.0" y1="742.1" x2="375.0" y2="744.7" stroke="#444" stroke-width="0.8"/><text x="375.0" y="752.9" text-anchor="middle">50</text><line x1="414.4" y1="742.1" x2="414.4" y2="744.7" stroke="#444" stroke-width="0.8"/><text x="414.4" y="752.9" text-anchor="middle">100</text><line x1="453.9" y1="742.1" x2="453.9" y2="744.7" stroke="#444" stroke-width="0.8"/><text x="453.9" y="752.9" text-anchor="middle">150</text><line x1="493.3" y1="742.1" x2="493.3" y2="744.7" stroke="#444" stroke-width="0.8"/><text x="493.3" y="752.9" text-anchor="middle">200</text><line x1="532.8" y1="742.1" x2="532.8" y2="744.7" stroke="#444" stroke-width="0.8"/><text x="532.8" y="752.9" text-anchor="middle">250</text></g>
<text x="306.3" y="662.8" transform="rotate(-90 306.3 662.8)" text-anchor="middle" font-family="DejaVu Sans, Liberation Sans, sans-serif" font-size="7.2" fill="#222" stroke="#222" stroke-width="0.2">RMSE</text>
<rect x="454.1" y="584.8" width="84.6" height="24.2" rx="1.5" fill="#fff" fill-opacity="0.8" stroke="#d6d6d6" stroke-width="0.8"/>
<line x1="456.4" y1="591.0" x2="472.3" y2="591.0" stroke="#ff0000" stroke-width="1.1"/>
<text x="477.7" y="593.6" font-family="DejaVu Sans, Liberation Sans, sans-serif" font-size="7.2" fill="#222" stroke="#222" stroke-width="0.15">Training RMSE</text>
<line x1="456.4" y1="601.6" x2="472.3" y2="601.6" stroke="#0000ff" stroke-width="1.1"/>
<text x="477.7" y="604.2" font-family="DejaVu Sans, Liberation Sans, sans-serif" font-size="7.2" fill="#222" stroke="#222" stroke-width="0.15">Validation RMSE</text>
<rect x="346.0" y="616.0" width="92.0" height="43.7" fill="rgb(86,190,126)" stroke="rgb(40,90,60)" stroke-width="0.7"/>
<g font-family="DejaVu Sans, Liberation Sans, sans-serif" font-size="8.7" fill="#0c1a10" stroke="#0c1a10" stroke-width="0.25"><text x="349.1" y="625.5">At the last eopch:</text><text x="349.1" y="635.2">RMSE: 0.5754</text><text x="349.1" y="644.9">Val. RMSE: 0.7332</text><text x="349.1" y="654.6">RMSE Ratio: 0.7848</text></g>
<rect x="444.8" y="618.3" width="92.6" height="40.1" fill="rgb(252,126,128)"/>
<g font-family="Liberation Serif, serif" font-size="11" fill="#1a0a0a" stroke="#1a0a0a" stroke-width="0.25"><text x="510.5" y="629.5" text-anchor="end">No. of filters:</text><text x="514.7" y="629.5">28</text><text x="510.5" y="641.8" text-anchor="end">Dropout:</text><text x="514.7" y="641.8">0.45</text><text x="510.5" y="654.0" text-anchor="end">Learning rate:</text><text x="514.7" y="654.0">10<tspan font-size="6.8" dy="-3.0" stroke-width="0.1">-5</tspan></text></g>
<g font-family="DejaVu Sans, Liberation Sans, sans-serif" font-size="8.75" fill="#222" stroke="#222" stroke-width="0.2"><text x="187.0" y="14.5" text-anchor="middle">Training And Validation Loss</text><text x="435.6" y="14.5" text-anchor="middle">Training And Validation RMSE</text></g>
<g font-family="DejaVu Sans, Liberation Sans, sans-serif" font-size="7.2" fill="#222" stroke="#222" stroke-width="0.2"><text x="186.6" y="763.2" text-anchor="middle">Epochs</text><text x="434.6" y="763.3" text-anchor="middle">Epochs</text></g>
<g font-family="Liberation Serif, serif" font-size="12" font-weight="bold" fill="#111"><text x="7.4" y="104.1">a</text><text x="7.4" y="297.5">b</text><text x="7.4" y="482.6">c</text><text x="7.4" y="676.0">d</text></g></g></svg>
</body></html>
